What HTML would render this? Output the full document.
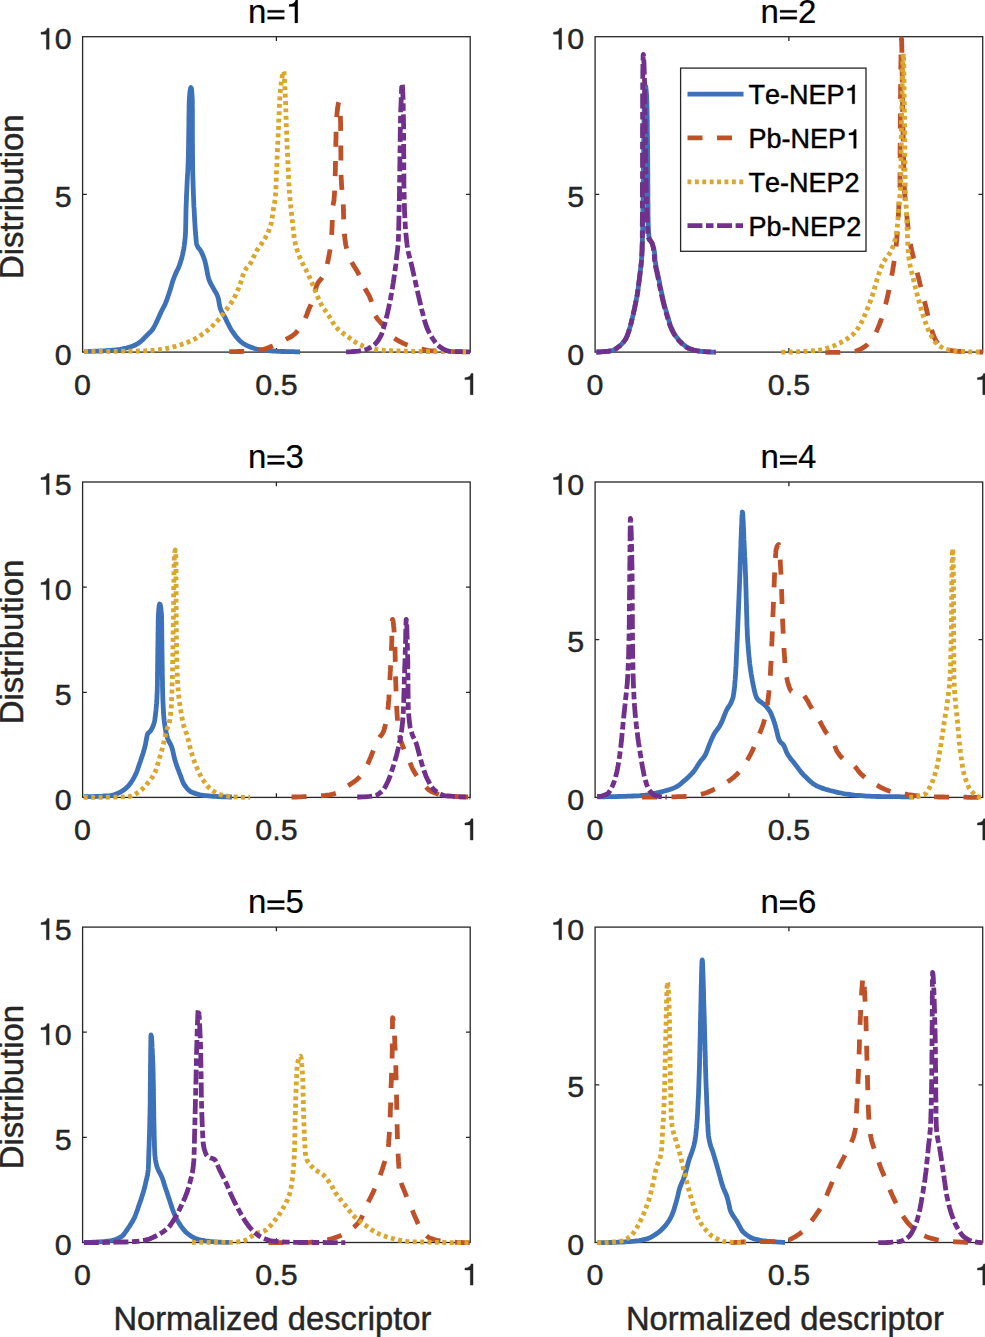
<!DOCTYPE html><html><head><meta charset="utf-8"><style>html,body{margin:0;padding:0;background:#fff;}svg{display:block}text{font-kerning:none}</style></head><body>
<svg width="985" height="1337" viewBox="0 0 985 1337" font-family="Liberation Sans, sans-serif">
<rect width="985" height="1337" fill="#fff"/>
<defs>
<clipPath id="c00"><rect x="82.6" y="33.7" width="388.2" height="321.4"/></clipPath>
<clipPath id="c01"><rect x="595.1" y="33.7" width="388.2" height="321.4"/></clipPath>
<clipPath id="c10"><rect x="82.6" y="479" width="388.2" height="321.4"/></clipPath>
<clipPath id="c11"><rect x="595.1" y="479" width="388.2" height="321.4"/></clipPath>
<clipPath id="c20"><rect x="82.6" y="924.1" width="388.2" height="321.4"/></clipPath>
<clipPath id="c21"><rect x="595.1" y="924.1" width="388.2" height="321.4"/></clipPath>
</defs>
<rect x="82.6" y="36.7" width="387.6" height="315.4" fill="none" stroke="#262626" stroke-width="1.3"/>
<path d="M276.4 352.1v-4.2M276.4 36.7v4.2" stroke="#262626" stroke-width="1.3"/>
<path d="M82.6 194.4h4.2M470.2 194.4h-4.2" stroke="#262626" stroke-width="1.3"/>
<g transform="translate(0 394.7) scale(1 1.0) translate(0 -394.7)"><text x="74.1" y="394.7" font-size="30.4" fill="#262626" stroke="#262626" stroke-width="0.45">0</text></g>
<g transform="translate(0 394.7) scale(1 1.0) translate(0 -394.7)"><text x="255.3" y="394.7" font-size="30.4" fill="#262626" stroke="#262626" stroke-width="0.45">0.5</text></g>
<g transform="translate(0 394.7) scale(1 1.0) translate(0 -394.7)"><path transform="translate(461.7 394.7) scale(0.03040 -0.03040)" d="M372 0H283V497H106V558C230 568 290 608 311 695H372Z" fill="#262626" stroke="#262626" stroke-width="14.8"/></g>
<g transform="translate(0 364.7) scale(1 1.0) translate(0 -364.7)"><text x="54.7" y="364.7" font-size="30.4" fill="#262626" stroke="#262626" stroke-width="0.45">0</text></g>
<g transform="translate(0 207) scale(1 1.0) translate(0 -207)"><text x="54.7" y="207" font-size="30.4" fill="#262626" stroke="#262626" stroke-width="0.45">5</text></g>
<g transform="translate(0 49.3) scale(1 1.0) translate(0 -49.3)"><path transform="translate(37.8 49.3) scale(0.03040 -0.03040)" d="M372 0H283V497H106V558C230 568 290 608 311 695H372Z" fill="#262626" stroke="#262626" stroke-width="14.8"/><text x="54.7" y="49.3" font-size="30.4" fill="#262626" stroke="#262626" stroke-width="0.45">0</text></g>
<g transform="translate(0 22.9) scale(1 1.0) translate(0 -22.9)"><text x="247.9" y="22.9" font-size="33" fill="#000" stroke="#000" stroke-width="0.2">n</text><path transform="translate(266.3 22.9) scale(0.03300 -0.03300)" d="M38 113H546V186H38ZM38 314H546V387H38Z" fill="#000" stroke="#000" stroke-width="6.1"/><path transform="translate(285.5 22.9) scale(0.03300 -0.03300)" d="M372 0H283V497H106V558C230 568 290 608 311 695H372Z" fill="#000" stroke="#000" stroke-width="6.1"/></g>
<g clip-path="url(#c00)" fill="none" stroke-width="4.8" stroke-linejoin="round">
<path d="M84.1 351.4L86.5 351.4L88.9 351.4L91.3 351.3L93.7 351.2L96.1 351.2L98.5 351.1L100.9 350.9L103.3 350.8L105.7 350.7L108.1 350.5L110.5 350.4L112.9 350.2L115.2 350L117.6 349.6L120 349.3L122.3 348.9L124.7 348.4L126.7 348L128.7 347.4L130.8 346.8L132.8 346.1L134.8 345.3L136.8 344.2L138.9 342.9L140.9 341.3L142.4 340L143.9 338.4L145.5 336.8L147 335.2L148.7 333.6L150.4 332L152.1 330.1L153.1 328.6L154.1 326.9L155.1 325L156.1 323L157.1 320.9L158.1 318.6L159.2 316.3L160.2 314L161.2 311.8L162.2 309.8L163.2 307.9L164.3 305.9L165.3 303.7L166.1 301.7L166.9 299.6L167.7 297.3L168.5 294.9L169.3 292.5L170 290.4L170.7 288.1L171.4 285.8L172 283.5L172.7 281.3L173.4 279.3L174.1 277.5L174.7 275.9L175.4 274.3L176.2 272.5L177 270.7L177.9 269L178.7 267.2L179.5 265.1L180.1 263.4L180.7 261.6L181.3 259.6L181.9 257.5L182.5 255L182.9 253.1L183.3 251.1L183.8 248.7L184.2 246L184.6 242.8L184.8 241.2L185 239.4L185.2 237.2L185.4 234.4L185.6 230.6L185.6 229.3L185.7 227.4L185.7 225.1L185.8 222.5L185.8 219.7L185.9 217L185.9 214.4L186 212.1L186 210.3L186.1 207.3L186.2 204.7L186.3 202.3L186.4 200.1L186.4 198L186.5 196L186.6 194.1L186.7 192.1L186.8 190L186.9 187.5L187 185.3L187.1 183.1L187.2 181.1L187.3 179.1L187.4 177.1L187.5 175.1L187.7 173.1L187.8 171L187.9 168.7L188 166.3L188.1 163.7L188.2 160.8L188.3 157.7L188.4 154.2L188.4 152.6L188.5 150.7L188.5 148.5L188.6 146.1L188.6 143.4L188.6 140.6L188.7 137.6L188.7 134.5L188.8 131.3L188.8 128.1L188.9 124.9L188.9 121.8L188.9 118.7L189 115.7L189 112.8L189.1 110.2L189.1 107.7L189.1 105.5L189.2 103.6L189.2 102L189.3 100.8L189.3 100L189.6 96.3L189.8 93.3L190.1 90.8L190.4 89.1L190.6 88L190.9 87.6L191.2 87.9L191.5 89L191.7 91.1L192 94.7L192.3 100L192.3 100.5L192.3 101.5L192.3 102.9L192.3 104.8L192.3 107L192.4 109.6L192.4 112.4L192.4 115.4L192.4 118.7L192.4 122L192.4 125.4L192.4 128.9L192.4 132.3L192.4 135.6L192.4 138.9L192.4 142L192.5 144.8L192.5 147.4L192.5 149.7L192.5 151.6L192.5 153.1L192.5 154.2L192.6 158.7L192.6 162.8L192.7 166.3L192.7 169.5L192.8 172.3L192.8 174.8L192.9 177L192.9 179L193 180.8L193 182.4L193.1 184L193.1 185.5L193.2 186.9L193.2 188.4L193.3 190L193.4 193.2L193.5 196.2L193.6 199L193.7 201.7L193.8 204.3L193.9 206.7L194.1 209L194.2 211.1L194.3 213.2L194.4 215.2L194.5 217L194.6 218.8L194.7 220.5L194.9 223.7L195.1 227L195.3 230.1L195.5 233.1L195.8 235.9L196 238.5L196.2 240.7L196.4 242.5L196.6 243.9L196.8 244.8L198.1 247.6L199.5 249.1L200.8 250.9L201.6 252.5L202.4 254.3L203.3 256.4L204.1 258.6L204.9 261.1L205.4 263L205.9 265.2L206.4 267.8L206.9 270.4L207.4 273L207.9 275.5L208.4 277.6L208.9 279.3L209.9 281.9L210.9 284L212 285.8L213 287.6L214 289.5L215 291.3L216.1 293L217.1 295L218.1 297.6L218.5 299.2L218.9 301.5L219.3 303.9L219.7 306.2L220.1 307.8L221.1 310.5L222.1 312.6L223.2 314.4L224.2 316L225.2 317.9L226.2 320L227.2 322.1L228.3 324.2L229.3 326.2L230.3 328.1L231.6 330.3L233 332.3L234.3 334.2L235.8 336.2L237.4 338.1L238.9 339.9L240.4 341.3L242.4 342.9L244.4 344.2L246.5 345.4L248.5 346.3L250.5 347.1L252.6 347.8L254.6 348.5L256.7 349L258.7 349.4L261.1 349.7L263.4 350.1L265.8 350.3L268.2 350.6L270.5 350.8L272.9 351L275.3 351.2L277.6 351.3L280 351.4L282.2 351.5L284.4 351.5L286.7 351.6L288.9 351.7L291.1 351.7L293.3 351.7L295.6 351.8L297.8 351.8L300 351.8" stroke="#3D71B8"/>
<path d="M229.2 351.6L231.5 351.6L233.7 351.6L236 351.6L238.2 351.5L240.5 351.5L242.7 351.4L245 351.4L247.3 351.3L249.6 351.2L251.8 351.1L254.1 350.9L256.4 350.7L258.7 350.4L260.9 350L263.1 349.5L265.3 348.8L267.5 348L269.7 347.1L271.9 346.3L273.9 345.5L276 344.5L278 343.5L280.1 342.5L282.1 341.4L284.2 340.3L286.2 339.2L288.3 338.2L290.3 337.1L292.4 335.8L294.4 334.2L295.8 332.9L297.3 331.2L298.7 329.4L300.2 327.3L301.6 325.1L303.1 322.6L304.5 320L305.3 318.3L306.1 316.3L307 314.1L307.8 311.9L308.6 309.8L309.5 307.8L310.3 306L311.1 304.1L312 302.2L312.9 300L313.7 297.6L314.2 295.8L314.7 293.6L315.2 291.2L315.7 288.9L316.2 286.9L316.7 285.4L318.1 282.7L319.4 280.8L320.8 279.3L322.1 277.7L323.4 275.8L324.8 273.2L325.4 271.5L326 269.3L326.7 266.8L327.3 264L327.9 261.1L328.3 259.3L328.6 257.4L329 255.5L329.4 253.4L329.8 251.1L330.1 248.6L330.5 245.9L330.9 242.8L331.1 240.9L331.3 238.8L331.5 236.4L331.7 233.7L331.9 230.6L332 228.7L332.1 226.3L332.2 223.5L332.3 220.5L332.4 217.5L332.5 214.5L332.6 211.8L332.7 209.4L332.8 207.5L332.9 206.2L333.3 203.9L333.6 202.4L334 200.2L334.1 198.9L334.2 197.3L334.4 195.3L334.5 193L334.6 190.5L334.8 187.8L334.9 184.8L335 181.8L335.1 180.2L335.1 178.3L335.2 176.1L335.2 173.8L335.3 171.2L335.4 168.5L335.4 165.7L335.5 162.7L335.5 159.7L335.6 156.6L335.7 153.4L335.7 150.3L335.8 147.1L335.8 144L335.9 141L336 138.1L336 135.2L336.1 132.6L336.1 130L336.2 127.7L336.3 125.6L336.3 123.8L336.4 122.2L336.4 121L336.5 120L336.8 116.1L337.1 112.6L337.4 109.5L337.8 106.9L338.1 104.8L338.4 103.3L338.7 102.3L339 102L339.2 102.3L339.4 103.1L339.6 104.6L339.8 106.5L339.9 109.1L340.1 112.2L340.3 115.8L340.5 120L340.5 120.9L340.6 122.2L340.6 123.9L340.6 126L340.6 128.4L340.7 131L340.7 133.9L340.7 136.9L340.7 140.1L340.8 143.4L340.8 146.7L340.8 150L340.9 153.3L340.9 156.6L340.9 159.7L340.9 162.6L341 165.4L341 167.9L341 170.1L341 171.9L341.1 173.4L341.1 174.5L341.2 178.1L341.4 181L341.5 183.5L341.6 185.5L341.7 187.3L341.9 188.9L342 190.4L342.1 192L342.3 194.2L342.5 196L342.7 197.7L342.9 199.6L343.1 202.2L343.2 203.7L343.3 205.8L343.4 208.2L343.4 210.9L343.5 213.8L343.6 216.8L343.7 219.7L343.8 222.6L343.9 225.2L343.9 227.5L344 229.3L344.1 230.6L344.4 234.4L344.8 237.7L345.1 240.5L345.5 242.9L345.8 244.9L346.2 246.7L346.5 248.2L346.9 249.6L347.2 250.9L348 253.6L348.8 255.8L349.6 257.7L350.4 259.4L351.2 261.1L352.4 263.4L353.5 265.4L354.7 267.3L355.8 269.1L357 271L358.1 273L359.3 275.3L360.1 277.2L360.9 279.2L361.8 281.3L362.6 283.4L363.4 285.4L364.4 287.5L365.4 289.3L366.4 291L367.4 292.7L368.5 294.5L369.5 296.5L370.5 298.9L371.5 301.7L371.9 303.4L372.3 305.7L372.8 308.1L373.2 310.3L373.6 311.8L375 315L376.5 317.5L377.9 319.5L379.4 321.2L380.8 322.7L382.3 324.2L383.7 326L385.1 327.8L386.4 329.8L387.8 331.6L389.1 333.4L390.4 334.9L391.8 336.2L393.8 337.8L395.9 339.2L397.9 340.5L400 341.6L402 342.7L404 343.6L406.1 344.5L408.1 345.3L410.1 346.1L412.1 346.7L414.2 347.4L416.2 347.9L418.2 348.4L420.6 348.9L422.9 349.4L425.3 349.9L427.7 350.3L430 350.6L432.4 350.8L434.8 350.9L437.1 351L439.4 351.1L441.8 351.2L444.1 351.3L446.5 351.4L448.8 351.5L451.2 351.5L453.6 351.6L455.9 351.7L458.2 351.7L460.6 351.7L462.9 351.8L465.3 351.8L467.6 351.8L470 351.8" stroke="#BF5129" stroke-dasharray="15 14.5"/>
<path d="M84.1 351.4L86.6 351.4L89 351.4L91.5 351.4L94 351.4L96.4 351.4L98.9 351.4L101.4 351.4L103.9 351.4L106.3 351.3L108.8 351.3L111.3 351.3L113.7 351.3L116.2 351.3L118.7 351.3L121.1 351.2L123.6 351.2L126.1 351.2L128.6 351.2L131 351.1L133.5 351.1L136 351.1L138.4 351L140.9 351L143.2 350.9L145.4 350.9L147.7 350.7L149.9 350.6L152.2 350.4L154.4 350.2L156.7 349.9L158.9 349.7L161.2 349.4L163.6 349.1L165.9 348.6L168.3 348.1L170.7 347.5L173 346.9L175.4 346.3L177.4 345.7L179.5 345.1L181.5 344.5L183.5 343.8L185.6 343.1L187.6 342.3L189.6 341.4L191.7 340.5L193.7 339.5L195.8 338.4L197.8 337.2L199.8 336L201.8 334.6L203.9 333.2L205.9 331.7L207.9 330.1L209.6 328.6L211.3 327.1L213 325.4L214.7 323.7L216.4 321.9L218.1 320L219.4 318.5L220.8 316.8L222.1 315.2L223.5 313.4L224.8 311.6L226.2 309.8L227.5 308L228.9 306.1L230.2 304.2L231.6 302.2L233 300L234.3 297.6L235.2 295.9L236 294.1L236.9 292.1L237.8 290.1L238.7 287.9L239.5 285.7L240.4 283.4L241.1 281.4L241.8 279.2L242.4 276.9L243.1 274.7L243.8 272.7L244.5 271.2L245.7 269.2L246.9 267.6L248.2 266.3L249.4 264.8L250.6 263.1L251.6 261.3L252.6 259.3L253.6 257.1L254.6 254.9L255.6 252.8L256.6 250.9L258 248.7L259.3 246.7L260.7 244.9L262.1 243L263.4 241L264.8 238.7L265.7 237.1L266.5 235.5L267.4 233.8L268.3 231.9L269.2 229.8L270 227.4L270.9 224.5L271.3 222.9L271.6 221L272 218.7L272.4 216.3L272.8 213.7L273.1 211.1L273.5 208.6L273.9 206.2L274.2 204.3L274.6 202.6L274.9 200.7L275.3 198L275.4 196.8L275.5 195.2L275.6 193.3L275.8 191.2L275.9 188.8L276 186.3L276.1 183.5L276.2 180.7L276.3 177.8L276.4 174.8L276.5 171.8L276.7 168.9L276.8 166L276.9 163.3L277 160.7L277.1 158.3L277.2 155.9L277.3 153.5L277.4 151.1L277.5 148.7L277.6 146.3L277.7 143.9L277.9 141.5L278 139.1L278.1 136.7L278.2 134.3L278.3 131.9L278.4 129.6L278.5 127.3L278.6 125L278.7 122.5L278.8 119.9L278.9 117.2L279.1 114.5L279.2 111.8L279.3 109.1L279.4 106.5L279.5 103.9L279.6 101.5L279.7 99.2L279.9 97.2L280 95.3L280.1 93.8L280.2 92.5L280.6 88.7L281 85.1L281.4 81.8L281.8 78.9L282.2 76.3L282.6 74.3L283 72.7L283.4 71.7L283.8 71.4L283.9 71.8L284.1 73.1L284.2 75L284.4 77.4L284.5 80.1L284.7 83.2L284.8 86.4L285 89.5L285.1 92.5L285.2 94.5L285.3 96.6L285.4 98.8L285.5 101.1L285.6 103.6L285.7 106.1L285.8 108.7L285.9 111.3L285.9 114L286 116.7L286.1 119.4L286.2 122L286.3 124.7L286.4 127.3L286.5 129.8L286.6 132.3L286.7 134.7L286.8 137.3L286.9 140L287 142.6L287.1 145.2L287.2 147.9L287.3 150.4L287.4 153L287.6 155.5L287.7 158L287.8 160.5L287.9 162.9L288 165.3L288.1 167.6L288.2 169.8L288.3 172L288.4 174.5L288.6 177L288.7 179.4L288.8 181.7L288.9 183.9L289.1 186.1L289.2 188.1L289.3 190L289.5 192.8L289.7 195.4L289.9 197.8L290.1 200L290.3 202.2L290.6 204.8L290.8 207.2L291.1 209.5L291.3 211.8L291.6 214L291.8 216.1L292.1 218.3L292.3 220.5L292.6 222.9L292.8 225.4L293.1 228L293.4 230.5L293.6 232.8L293.9 235.1L294.1 237L294.4 238.7L294.9 241.4L295.4 243.7L295.9 245.8L296.4 247.6L296.9 249.3L297.4 250.9L298.2 253.4L299.1 255.6L299.9 257.6L300.8 259.5L301.6 261.3L302.5 263.1L303.5 265.2L304.5 267.3L305.6 269.2L306.6 271.2L307.6 273.2L308.6 275.3L309.5 277.2L310.3 279.2L311.2 281.2L312.1 283.3L313 285.4L313.8 287.5L314.7 289.5L315.6 291.6L316.4 293.7L317.3 295.9L318.2 298L319.1 300.1L319.9 302L320.8 303.7L322.1 306.1L323.5 308.2L324.9 310.1L326.2 312L327.5 313.9L328.9 315.9L330.2 318L331.6 320.2L332.9 322.5L334.3 324.6L335.6 326.5L337 328.1L338.7 329.8L340.4 331.2L342.1 332.5L343.8 333.8L345.5 335L347.2 336.2L349.2 337.7L351.2 339.3L353.3 340.8L355.3 342.1L357.3 343.3L359.3 344.3L361.4 345.2L363.4 346.1L365.5 346.8L367.5 347.4L369.8 348L372.1 348.6L374.4 349.1L376.8 349.6L379.1 350L381.4 350.2L383.7 350.4L386.2 350.5L388.6 350.6L391.1 350.7L393.6 350.7L396 350.8L398.5 350.9L401 351L403.4 351L405.9 351.1L408.4 351.1L410.8 351.2L413.3 351.3L415.8 351.3L418.2 351.4L420.7 351.4L423.2 351.4L425.6 351.5L428.1 351.5L430.5 351.6L433 351.6L435.5 351.6L437.9 351.6L440.4 351.7L442.9 351.7L445.3 351.7L447.8 351.7L450.3 351.7L452.7 351.8L455.2 351.8L457.7 351.8L460.1 351.8L462.6 351.8L465.1 351.8L467.5 351.8L470 351.8" stroke="#DAA62C" stroke-dasharray="3.9 3.5"/>
<path d="M346.1 351.8L348.6 351.8L351 351.7L353.5 351.5L356 351.3L358.5 351.1L360.9 350.7L363.4 350.4L365.4 349.9L367.5 349.1L369.5 348L371.6 346.7L373.6 345.3L375 344.1L376.4 342.6L377.9 340.8L379.3 338.7L380.7 336.2L381.4 334.7L382 332.9L382.7 330.9L383.4 328.7L384 326.3L384.7 324L385.2 322.2L385.7 320.3L386.2 318.3L386.8 316.2L387.3 314L387.8 311.8L388.2 309.8L388.7 307.8L389.1 305.6L389.6 303.4L390 301.2L390.5 298.9L390.9 296.5L391.4 294L391.8 291.5L392.1 289.5L392.5 287.4L392.8 285.3L393.2 283.1L393.5 280.8L393.9 278.5L394.2 276.1L394.6 273.7L394.9 271.2L395.2 269.1L395.5 266.9L395.8 264.7L396 262.4L396.3 260L396.6 257.5L396.9 255L397.1 253L397.4 251.2L397.6 249.3L397.8 247L398.1 244.3L398.3 240.8L398.4 239.5L398.4 237.8L398.5 235.8L398.6 233.6L398.6 231.2L398.7 228.6L398.8 226L398.8 223.2L398.9 220.5L398.9 218.6L399 216.6L399 214.5L399.1 212.3L399.1 210.1L399.2 207.7L399.2 205.4L399.3 202.9L399.3 200.4L399.4 197.9L399.4 195.3L399.5 192.7L399.5 190L399.5 187.9L399.6 185.7L399.6 183.4L399.6 181L399.7 178.5L399.7 175.8L399.7 173.2L399.8 170.4L399.8 167.7L399.8 164.8L399.9 162L399.9 159.1L399.9 156.3L400 153.4L400 150.6L400.1 147.8L400.1 145.1L400.1 142.4L400.2 139.8L400.2 137.2L400.2 134.8L400.3 132.5L400.3 130.2L400.3 128.1L400.4 126.2L400.4 124.4L400.4 122.7L400.5 121.3L400.5 120L400.6 116.2L400.7 112.4L400.8 108.8L401 105.3L401.1 102L401.2 98.9L401.3 96L401.4 93.3L401.5 91L401.6 88.9L401.7 87.1L401.9 85.7L402 84.7L402.1 84L402.2 83.8L402.3 84L402.4 84.5L402.5 85.4L402.5 86.7L402.6 88.2L402.7 90.1L402.8 92.3L402.9 94.8L403 97.6L403.1 100.7L403.2 104L403.2 107.7L403.3 111.5L403.4 115.6L403.5 120L403.5 121L403.5 122.4L403.6 124L403.6 125.8L403.6 127.9L403.6 130.2L403.6 132.7L403.6 135.3L403.7 138.1L403.7 140.9L403.7 143.9L403.7 147L403.7 150.1L403.7 153.3L403.8 156.4L403.8 159.6L403.8 162.7L403.8 165.8L403.8 168.8L403.8 171.7L403.9 174.5L403.9 177.1L403.9 179.6L403.9 181.9L403.9 184L403.9 185.9L404 187.5L404 188.9L404 190L404.1 194L404.2 197.5L404.2 200.8L404.3 203.7L404.4 206.3L404.5 208.7L404.5 210.8L404.6 212.8L404.7 214.5L404.8 216.2L404.8 217.7L404.9 219.1L405 220.5L405.2 224.1L405.4 227.3L405.6 230.3L405.8 233L406.1 235.5L406.3 237.7L406.5 239.8L406.7 241.6L406.9 243.3L407.1 244.8L407.6 248L408.1 250.8L408.6 253.3L409.1 255.5L409.6 257.5L410.1 259.4L410.6 261.2L411.1 263.1L411.6 265.1L412.1 267.2L412.6 269.5L413.1 271.8L413.6 274L414.1 276.3L414.7 278.6L415.2 280.9L415.7 283.1L416.2 285.4L416.7 287.7L417.2 290L417.7 292.3L418.2 294.6L418.8 296.9L419.3 299.2L419.8 301.4L420.3 303.6L420.8 305.7L421.3 307.8L421.9 310.3L422.6 312.8L423.2 315.3L423.8 317.8L424.4 320.1L425.1 322.3L425.7 324.2L426.3 326L427.3 328.5L428.3 330.9L429.4 333L430.4 334.9L431.4 336.6L432.4 338.2L434 340.5L435.7 342.7L437.3 344.6L439 346.2L440.6 347.4L442.6 348.6L444.6 349.6L446.7 350.5L448.7 351.1L450.7 351.4L453.1 351.5L455.5 351.6L457.9 351.6L460.4 351.7L462.8 351.7L465.2 351.8L467.6 351.8L470 351.8" stroke="#70308C" stroke-dasharray="14.9 3.6 7.5 3.6"/>
</g>
<text transform="translate(23.0 196.7) rotate(-90) scale(1 1.0)" font-size="32.9" fill="#262626" stroke="#262626" stroke-width="0.45" text-anchor="middle">Distribution</text>
<rect x="595.1" y="36.7" width="387.6" height="315.4" fill="none" stroke="#262626" stroke-width="1.3"/>
<path d="M788.9 352.1v-4.2M788.9 36.7v4.2" stroke="#262626" stroke-width="1.3"/>
<path d="M595.1 194.4h4.2M982.7 194.4h-4.2" stroke="#262626" stroke-width="1.3"/>
<g transform="translate(0 394.7) scale(1 1.0) translate(0 -394.7)"><text x="586.6" y="394.7" font-size="30.4" fill="#262626" stroke="#262626" stroke-width="0.45">0</text></g>
<g transform="translate(0 394.7) scale(1 1.0) translate(0 -394.7)"><text x="767.8" y="394.7" font-size="30.4" fill="#262626" stroke="#262626" stroke-width="0.45">0.5</text></g>
<g transform="translate(0 394.7) scale(1 1.0) translate(0 -394.7)"><path transform="translate(974.2 394.7) scale(0.03040 -0.03040)" d="M372 0H283V497H106V558C230 568 290 608 311 695H372Z" fill="#262626" stroke="#262626" stroke-width="14.8"/></g>
<g transform="translate(0 364.7) scale(1 1.0) translate(0 -364.7)"><text x="567.2" y="364.7" font-size="30.4" fill="#262626" stroke="#262626" stroke-width="0.45">0</text></g>
<g transform="translate(0 207) scale(1 1.0) translate(0 -207)"><text x="567.2" y="207" font-size="30.4" fill="#262626" stroke="#262626" stroke-width="0.45">5</text></g>
<g transform="translate(0 49.3) scale(1 1.0) translate(0 -49.3)"><path transform="translate(550.3 49.3) scale(0.03040 -0.03040)" d="M372 0H283V497H106V558C230 568 290 608 311 695H372Z" fill="#262626" stroke="#262626" stroke-width="14.8"/><text x="567.2" y="49.3" font-size="30.4" fill="#262626" stroke="#262626" stroke-width="0.45">0</text></g>
<g transform="translate(0 22.9) scale(1 1.0) translate(0 -22.9)"><text x="760.4" y="22.9" font-size="33" fill="#000" stroke="#000" stroke-width="0.2">n</text><path transform="translate(778.8 22.9) scale(0.03300 -0.03300)" d="M38 113H546V186H38ZM38 314H546V387H38Z" fill="#000" stroke="#000" stroke-width="6.1"/><text x="798" y="22.9" font-size="33" fill="#000" stroke="#000" stroke-width="0.2">2</text></g>
<g clip-path="url(#c01)" fill="none" stroke-width="4.8" stroke-linejoin="round">
<path d="M596.4 352L598.6 352L600.9 351.9L603.1 351.7L605.3 351.5L607.5 351.3L609.8 351L612 350.6L613.8 350L615.6 349L617.4 347.7L619.2 346.3L620.8 345L622.4 343.4L624 341.5L625.6 339.2L626.4 337.6L627.3 335.5L628.1 333.2L629 330.6L629.8 327.9L630.4 325.9L631 323.7L631.5 321.4L632.1 319L632.7 316.5L633.2 314.5L633.6 312.5L634.1 310.4L634.6 308.2L635 306L635.5 303.7L635.9 301.6L636.3 299.5L636.8 297.2L637.2 294.9L637.6 292.3L637.9 290.3L638.2 288.1L638.5 285.8L638.8 283.4L639.1 281L639.4 278.8L639.7 276.7L639.9 274.5L640.2 272.1L640.5 269.6L640.7 267.8L640.9 266L641.1 264.1L641.3 262.1L641.5 259.8L641.7 257.2L641.9 254L642 252.5L642.1 250.9L642.1 249L642.2 246.8L642.3 244.5L642.4 241.9L642.4 239L642.5 235.9L642.6 232.6L642.6 231L642.7 229.2L642.7 227.1L642.7 224.9L642.8 222.6L642.8 220.1L642.8 217.6L642.9 214.9L642.9 212.2L642.9 209.5L643 206.9L643 204.2L643 202L643.1 199.7L643.1 197.3L643.1 194.8L643.1 192.3L643.2 189.7L643.2 187.1L643.2 184.5L643.2 181.8L643.3 179.1L643.3 176.4L643.3 173.7L643.4 171.1L643.4 168.5L643.4 165.9L643.4 163.4L643.5 160.9L643.5 158.5L643.5 156.2L643.5 154.1L643.6 152L643.6 150L643.6 147L643.7 143.9L643.7 140.8L643.8 137.7L643.8 134.7L643.9 131.6L643.9 128.6L643.9 125.7L644 122.8L644 119.9L644.1 117.2L644.1 114.6L644.2 112L644.2 109.6L644.3 107.3L644.3 105.1L644.3 103.1L644.4 101.3L644.4 99.7L644.5 98.2L644.5 96.9L644.6 95.8L644.6 95L644.8 91.5L645 88.6L645.3 86.7L645.5 86L645.8 86.7L646 88.5L646.3 91.4L646.6 95L646.6 95.7L646.7 96.7L646.7 97.8L646.8 99.1L646.8 100.5L646.9 102.2L646.9 104L646.9 106L647 108.1L647 110.4L647.1 112.8L647.1 115.3L647.2 118L647.2 120.7L647.3 123.6L647.3 126.6L647.3 129.7L647.4 132.9L647.4 136.2L647.5 139.5L647.5 143L647.6 146.4L647.6 150L647.6 151.6L647.6 153.4L647.7 155.5L647.7 157.8L647.7 160.2L647.7 162.8L647.7 165.6L647.7 168.4L647.8 171.4L647.8 174.4L647.8 177.5L647.8 180.7L647.8 183.8L647.9 186.9L647.9 190.1L647.9 193.1L647.9 196.1L647.9 199L647.9 201.8L648 204.4L648 206.9L648 209.3L648 211.4L648 213.3L648 215L648.1 216.4L648.1 217.6L648.1 218.4L648.2 222.5L648.3 226L648.4 229L648.5 231.5L648.7 233.5L648.8 235.1L648.9 236.2L649 236.9L650.1 240.1L651.2 241.6L652.3 243.6L652.8 245.2L653.4 247L654 249.3L654.5 252.5L654.7 254.2L654.9 256.7L655 259.2L655.2 261.1L655.7 264.4L656.1 267L656.6 269.2L657.1 271.2L657.5 273.1L658 275.3L658.5 277.7L659 280.1L659.5 282.5L659.9 284.9L660.4 287.2L660.9 289.5L661.4 291.7L661.8 293.9L662.3 296.1L662.8 298.3L663.2 300.4L663.7 302.3L664.3 304.6L664.9 306.9L665.5 309L666.1 311L666.7 313.1L667.3 315.1L668 317.5L668.7 319.9L669.4 322.3L670.1 324.5L670.8 326.4L671.9 328.9L673 331.2L674 333.2L675.1 335L676.5 337.1L678 339L679.4 340.6L680.8 342.1L682.5 343.7L684.2 345.2L685.9 346.6L687.6 347.7L689.3 348.5L691.6 349.3L693.9 350L696.1 350.6L698.4 351L700.7 351.3L703.2 351.5L705.7 351.7L708.2 351.9L710.6 352L713.1 352.1L715.6 352.1" stroke="#3D71B8"/>
<path d="M825.3 352.4L827.8 352.4L830.2 352.4L832.6 352.4L835.1 352.4L837.5 352.3L840 352.3L842.4 352.2L844.8 352.1L847.2 352L849.7 351.8L852.1 351.5L854.5 351.2L856.4 350.8L858.3 350.2L860.1 349.3L862 348.3L863.9 347.2L865.6 346L867.4 344.5L869.1 342.7L870.9 340.7L872.6 338.4L873.7 336.8L874.8 334.9L875.9 332.7L876.9 330.4L878 327.9L879.1 325.3L879.8 323.4L880.6 321.4L881.3 319.3L882 317L882.8 314.7L883.5 312.2L884 310.3L884.6 308.3L885.1 306.2L885.7 304.1L886.2 301.9L886.8 299.6L887.4 297.2L887.9 294.8L888.4 292.6L888.9 290.4L889.3 288.2L889.8 285.8L890.3 283.4L890.8 280.9L891.2 278.4L891.7 275.7L892.2 273L892.6 270.9L892.9 268.7L893.3 266.5L893.7 264.3L894 261.9L894.4 259.5L894.8 256.9L895.1 254.1L895.5 251.1L895.7 249.2L895.9 247.2L896.2 245.1L896.4 242.9L896.6 240.6L896.8 238.2L897 235.6L897.3 232.9L897.5 230.1L897.7 227.1L897.8 225L898 222.8L898.1 220.3L898.2 217.7L898.4 215.1L898.5 212.4L898.7 209.9L898.8 207.5L898.9 205.5L899.1 203.9L899.2 202.5L899.3 201L899.5 199.3L899.6 197.1L899.8 194L899.9 190L899.9 189.4L899.9 188.4L899.9 187.2L900 185.7L900 183.9L900 181.9L900 179.7L900 177.3L900 174.8L900 172.1L900.1 169.2L900.1 166.3L900.1 163.2L900.1 160.2L900.1 157L900.1 153.8L900.1 150.7L900.1 147.5L900.2 144.4L900.2 141.4L900.2 138.4L900.2 135.5L900.2 132.8L900.2 130.2L900.2 127.7L900.3 125.5L900.3 123.4L900.3 121.6L900.3 120L900.3 116.2L900.4 112.4L900.4 108.6L900.4 104.9L900.5 101.2L900.5 97.6L900.6 94L900.6 90.5L900.6 87L900.7 83.6L900.7 80.3L900.7 77.1L900.8 73.9L900.8 70.9L900.8 67.9L900.9 65.1L900.9 62.4L901 59.8L901 57.3L901 54.9L901.1 52.7L901.1 50.6L901.1 48.7L901.2 47L901.2 45.4L901.2 43.9L901.3 42.6L901.3 41.6L901.4 40.7L901.4 39.9L901.4 39.4L901.5 39.1L901.5 39L901.5 39.2L901.6 39.6L901.6 40.4L901.7 41.4L901.7 42.7L901.7 44.3L901.8 46.1L901.8 48.1L901.9 50.3L901.9 52.6L901.9 55.2L902 57.9L902 60.7L902.1 63.6L902.1 66.7L902.1 69.8L902.2 73L902.2 76.2L902.2 79.5L902.3 82.8L902.3 86.1L902.4 89.4L902.4 92.6L902.4 95.8L902.5 99L902.5 102L902.6 105L902.6 107.9L902.6 110.6L902.7 113.2L902.7 115.7L902.8 117.9L902.8 120L902.9 122.9L902.9 125.9L903 128.9L903 131.8L903.1 134.8L903.2 137.8L903.2 140.7L903.3 143.6L903.3 146.5L903.4 149.4L903.4 152.3L903.5 155L903.6 157.8L903.6 160.5L903.7 163.1L903.7 165.6L903.8 168.1L903.9 170.5L903.9 172.8L904 175.1L904 177.2L904.1 179.2L904.1 181.1L904.2 182.9L904.3 184.6L904.3 186.2L904.4 187.6L904.4 188.9L904.5 190L904.7 193.6L904.9 196.7L905.1 199.4L905.3 201.7L905.6 203.9L905.8 205.9L906 207.8L906.2 209.8L906.4 211.8L906.7 214.5L907 217.2L907.2 219.9L907.5 222.6L907.8 225.1L908 227.6L908.3 230L908.6 232.3L908.9 234.5L909.2 236.6L909.4 238.5L909.7 240.2L910.2 242.9L910.6 245.3L911.1 247.5L911.6 249.6L912.1 251.5L912.5 253.5L913 255.5L913.5 257.8L914.1 260.1L914.6 262.3L915.1 264.4L915.7 266.6L916.2 268.7L916.8 270.9L917.3 273L917.8 275.2L918.4 277.4L919 279.6L919.5 281.7L920 283.9L920.6 286.1L921.2 288.2L921.7 290.4L922.2 292.6L922.8 294.8L923.4 296.9L923.9 299.1L924.5 301.3L925 303.5L925.6 305.7L926.1 307.9L926.7 310.4L927.3 312.9L927.9 315.5L928.5 318.2L929.1 320.7L929.7 323.2L930.3 325.6L930.9 327.7L931.5 329.7L932.4 332.3L933.3 334.8L934.1 337.1L935 339L935.9 340.6L937.6 343.1L939.4 345.4L941.1 347.3L942.9 348.6L944.6 349.4L946.8 349.9L949 350.3L951.2 350.6L953.4 350.9L955.5 351.1L957.7 351.3L959.9 351.4L962.1 351.5L964.4 351.6L966.7 351.7L969.1 351.8L971.4 351.8L973.7 351.9L976 351.9L978.4 352L980.7 352L983 352" stroke="#BF5129" stroke-dasharray="15 14.5"/>
<path d="M781.4 352.1L783.8 352.1L786.3 352.1L788.7 352L791.2 352L793.6 351.9L796 351.8L798.5 351.7L800.9 351.6L803.4 351.4L805.8 351.3L808.2 351.1L810.7 350.9L813.1 350.7L815.6 350.5L818 350.3L820.2 350L822.4 349.5L824.6 348.9L826.8 348.2L829 347.5L831.1 346.8L833.2 346L835.4 345.1L837.5 344.1L839.6 343.1L841.7 342L843.5 341L845.4 339.9L847.2 338.8L849 337.5L850.8 336.2L852.7 334.6L854.5 332.9L855.9 331.3L857.2 329.4L858.6 327.3L860 325L861 323.2L862 321.2L863 319.1L864 316.9L865 314.5L866 312.2L866.8 310.2L867.6 308.2L868.5 306.2L869.3 304.1L870.1 301.9L871 299.6L871.8 297.2L872.6 294.8L873.2 292.8L873.9 290.6L874.5 288.3L875.1 286L875.7 283.7L876.4 281.5L877 279.5L877.8 277L878.6 274.5L879.4 272.1L880.2 269.7L881.1 267.5L881.9 265.5L882.7 263.6L883.5 262L884.9 259.9L886.2 258.1L887.6 256.4L889 254.4L889.9 252.9L890.8 251.3L891.7 249.5L892.6 247.5L893.5 245.2L894.4 242.4L894.8 240.9L895.2 239.3L895.6 237.4L896 235.2L896.5 232.7L896.9 229.8L897.3 226.5L897.7 222.7L897.8 221L898 218.7L898.1 216L898.2 213.1L898.4 210.1L898.5 207.4L898.7 205L898.8 203.1L899.1 200.5L899.4 198.8L899.6 197.4L899.9 195.8L900.2 193.5L900.5 190L900.5 189.3L900.6 188.4L900.6 187.1L900.6 185.6L900.7 183.9L900.7 182L900.7 179.8L900.8 177.5L900.8 175L900.8 172.3L900.9 169.6L900.9 166.7L900.9 163.7L901 160.7L901 157.6L901.1 154.5L901.1 151.4L901.1 148.3L901.2 145.2L901.2 142.2L901.2 139.2L901.3 136.3L901.3 133.5L901.3 130.9L901.4 128.3L901.4 126L901.4 123.8L901.5 121.8L901.5 120L901.6 116.6L901.6 113.1L901.7 109.7L901.8 106.2L901.9 102.7L901.9 99.3L902 95.8L902.1 92.5L902.1 89.2L902.2 85.9L902.3 82.7L902.3 79.7L902.4 76.7L902.5 73.9L902.6 71.2L902.6 68.6L902.7 66.2L902.8 63.9L902.8 61.9L902.9 60L903 58.4L903 56.9L903.1 55.7L903.2 54.8L903.3 54.1L903.3 53.6L903.4 53.5L903.4 53.7L903.5 54.1L903.5 54.9L903.6 56L903.6 57.3L903.6 58.8L903.7 60.6L903.7 62.6L903.8 64.9L903.8 67.2L903.8 69.8L903.9 72.5L903.9 75.4L904 78.3L904 81.4L904.1 84.5L904.1 87.7L904.1 91L904.2 94.3L904.2 97.6L904.3 100.9L904.3 104.2L904.3 107.5L904.4 110.7L904.4 113.9L904.5 117L904.5 120L904.5 122.1L904.6 124.3L904.6 126.6L904.6 129.1L904.6 131.7L904.7 134.4L904.7 137.1L904.7 139.9L904.7 142.8L904.8 145.7L904.8 148.6L904.8 151.6L904.9 154.5L904.9 157.4L904.9 160.3L904.9 163.2L905 166L905 168.7L905 171.3L905.1 173.8L905.1 176.3L905.1 178.6L905.1 180.7L905.2 182.7L905.2 184.6L905.2 186.2L905.2 187.7L905.3 189L905.3 190L905.4 193.7L905.5 196.9L905.7 199.5L905.8 201.7L905.9 203.8L906 205.6L906.2 207.5L906.3 209.5L906.4 211.8L906.5 214.3L906.6 216.9L906.8 219.7L906.9 222.5L907 225.3L907.1 228.2L907.3 231.1L907.4 234L907.5 236.8L907.6 239.5L907.7 242.1L907.9 244.6L908 247L908.1 249.1L908.2 251.1L908.4 252.8L908.5 254.3L908.6 255.5L909.1 259.3L909.6 262.5L910.1 265.2L910.6 267.6L911 269.6L911.5 271.5L912 273.3L912.5 275.2L913 277.3L913.6 279.9L914.2 282.5L914.8 285L915.4 287.5L916 289.9L916.6 292.3L917.2 294.6L917.8 296.9L918.4 299.1L919 301.4L919.7 303.7L920.3 306L920.9 308.2L921.5 310.3L922.2 312.4L922.8 314.4L923.6 316.8L924.4 319.2L925.2 321.6L925.9 323.8L926.7 325.9L927.5 327.9L928.3 329.7L929.4 332L930.5 334.3L931.6 336.4L932.6 338.4L933.7 340.1L934.8 341.6L935.9 342.8L937.7 344.4L939.5 345.8L941.3 347L943.2 348.1L945 348.9L946.8 349.4L949 349.9L951.2 350.3L953.4 350.7L955.5 351L957.7 351.2L959.9 351.4L962.1 351.5L964.4 351.6L966.7 351.7L969.1 351.8L971.4 351.8L973.7 351.9L976 351.9L978.4 352L980.7 352L983 352" stroke="#DAA62C" stroke-dasharray="3.9 3.5"/>
<path d="M596.4 352L598.6 352L600.9 351.9L603.1 351.7L605.3 351.5L607.5 351.3L609.8 351L612 350.6L613.8 350L615.6 349L617.4 347.7L619.2 346.3L620.8 345L622.4 343.4L624 341.5L625.6 339.2L626.4 337.6L627.3 335.5L628.1 333.2L629 330.6L629.8 327.9L630.4 325.9L631 323.7L631.5 321.4L632.1 319L632.7 316.5L633.2 314.5L633.6 312.5L634.1 310.4L634.6 308.2L635 306L635.5 303.7L635.9 301.6L636.3 299.5L636.8 297.2L637.2 294.9L637.6 292.3L637.9 290.3L638.2 288.1L638.5 285.8L638.8 283.4L639.1 281L639.4 278.8L639.7 276.7L639.9 274.5L640.2 272.1L640.5 269.6L640.7 267.9L640.9 266.3L641.1 264.7L641.3 262.9L641.5 260.6L641.7 257.7L641.9 254L641.9 253L642 251.8L642 250.3L642.1 248.5L642.1 246.3L642.2 243.7L642.2 240.6L642.3 236.9L642.3 232.6L642.3 231.5L642.3 230.2L642.3 228.4L642.3 226.5L642.3 224.2L642.3 221.8L642.4 219.1L642.4 216.3L642.4 213.4L642.4 210.4L642.4 207.3L642.4 204.2L642.4 202.4L642.4 200.5L642.4 198.4L642.4 196.1L642.4 193.8L642.4 191.3L642.4 188.7L642.4 186.1L642.4 183.4L642.4 180.7L642.5 177.9L642.5 175.1L642.5 172.3L642.5 169.6L642.5 166.8L642.5 164.2L642.5 161.6L642.5 159L642.5 156.6L642.5 154.3L642.5 152.1L642.5 150L642.5 147L642.5 143.9L642.5 140.8L642.5 137.7L642.5 134.6L642.5 131.5L642.5 128.4L642.6 125.3L642.6 122.3L642.6 119.2L642.6 116.2L642.6 113.3L642.6 110.5L642.6 107.7L642.6 104.9L642.6 102.3L642.6 99.8L642.6 97.3L642.6 95L642.6 92.8L642.6 90.8L642.7 88.8L642.7 87.1L642.7 85.4L642.7 84L642.7 82.7L642.7 81.6L642.7 80.7L642.7 80L642.8 75.5L642.8 71.4L642.9 67.8L642.9 64.6L643 61.9L643 59.6L643.1 57.8L643.1 56.3L643.2 55.3L643.2 54.7L643.3 54.5L643.4 54.8L643.5 55.6L643.6 57L643.7 58.8L643.8 61L644 63.6L644.1 66.5L644.2 69.6L644.3 72.9L644.4 76.4L644.5 80L644.5 81.2L644.6 82.7L644.6 84.3L644.6 86.1L644.7 88L644.7 90.1L644.7 92.3L644.8 94.6L644.8 97.1L644.8 99.6L644.9 102.2L644.9 104.9L644.9 107.6L645 110.4L645 113.3L645.1 116.1L645.1 119L645.1 121.9L645.2 124.7L645.2 127.5L645.2 130.3L645.3 133.1L645.3 135.8L645.3 138.4L645.4 140.9L645.4 143.4L645.4 145.7L645.5 147.9L645.5 150L645.5 152.8L645.6 155.5L645.6 158.3L645.7 161L645.7 163.8L645.8 166.4L645.8 169.1L645.9 171.7L645.9 174.3L646 176.8L646 179.3L646.1 181.7L646.1 184.1L646.2 186.3L646.2 188.6L646.3 190.7L646.3 192.7L646.4 194.7L646.4 196.6L646.5 198.3L646.5 200L646.6 202.8L646.7 205.4L646.8 207.8L646.9 210L646.9 212.1L647 214.2L647.1 216.3L647.2 218.4L647.3 221L647.4 223.9L647.5 226.9L647.6 229.8L647.7 232.4L647.8 234.5L647.9 236.1L648 236.9L649.3 239.7L650.5 240.8L651.8 242.6L652.2 243.8L652.7 245.3L653.1 247.2L653.6 249.6L654 252.5L654.2 254.3L654.4 256.7L654.5 259.2L654.7 261.1L655.2 264.4L655.6 267L656.1 269.2L656.6 271.2L657 273.1L657.5 275.3L658 277.7L658.5 280.1L659 282.5L659.4 284.9L659.9 287.2L660.4 289.5L660.9 291.7L661.3 293.9L661.8 296.1L662.3 298.3L662.7 300.4L663.2 302.3L663.8 304.6L664.4 306.9L665 309L665.6 311L666.2 313.1L666.8 315.1L667.5 317.5L668.2 319.9L668.9 322.3L669.6 324.5L670.3 326.4L671.4 328.9L672.5 331.2L673.5 333.2L674.6 335L676 337.1L677.5 339L678.9 340.6L680.3 342.1L682 343.7L683.7 345.2L685.4 346.6L687.1 347.7L688.8 348.5L691.1 349.3L693.4 350L695.6 350.6L697.9 351L700.2 351.3L702.4 351.5L704.6 351.7L706.8 351.8L709 351.9L711.2 352L713.4 352.1L715.6 352.1" stroke="#70308C" stroke-dasharray="14.9 3.6 7.5 3.6"/>
</g>
<rect x="82.6" y="482" width="387.6" height="315.4" fill="none" stroke="#262626" stroke-width="1.3"/>
<path d="M276.4 797.4v-4.2M276.4 482v4.2" stroke="#262626" stroke-width="1.3"/>
<path d="M82.6 692.3h4.2M470.2 692.3h-4.2" stroke="#262626" stroke-width="1.3"/>
<path d="M82.6 587.1h4.2M470.2 587.1h-4.2" stroke="#262626" stroke-width="1.3"/>
<g transform="translate(0 840) scale(1 1.0) translate(0 -840)"><text x="74.1" y="840" font-size="30.4" fill="#262626" stroke="#262626" stroke-width="0.45">0</text></g>
<g transform="translate(0 840) scale(1 1.0) translate(0 -840)"><text x="255.3" y="840" font-size="30.4" fill="#262626" stroke="#262626" stroke-width="0.45">0.5</text></g>
<g transform="translate(0 840) scale(1 1.0) translate(0 -840)"><path transform="translate(461.7 840) scale(0.03040 -0.03040)" d="M372 0H283V497H106V558C230 568 290 608 311 695H372Z" fill="#262626" stroke="#262626" stroke-width="14.8"/></g>
<g transform="translate(0 810) scale(1 1.0) translate(0 -810)"><text x="54.7" y="810" font-size="30.4" fill="#262626" stroke="#262626" stroke-width="0.45">0</text></g>
<g transform="translate(0 704.9) scale(1 1.0) translate(0 -704.9)"><text x="54.7" y="704.9" font-size="30.4" fill="#262626" stroke="#262626" stroke-width="0.45">5</text></g>
<g transform="translate(0 599.7) scale(1 1.0) translate(0 -599.7)"><path transform="translate(37.8 599.7) scale(0.03040 -0.03040)" d="M372 0H283V497H106V558C230 568 290 608 311 695H372Z" fill="#262626" stroke="#262626" stroke-width="14.8"/><text x="54.7" y="599.7" font-size="30.4" fill="#262626" stroke="#262626" stroke-width="0.45">0</text></g>
<g transform="translate(0 494.6) scale(1 1.0) translate(0 -494.6)"><path transform="translate(37.8 494.6) scale(0.03040 -0.03040)" d="M372 0H283V497H106V558C230 568 290 608 311 695H372Z" fill="#262626" stroke="#262626" stroke-width="14.8"/><text x="54.7" y="494.6" font-size="30.4" fill="#262626" stroke="#262626" stroke-width="0.45">5</text></g>
<g transform="translate(0 468.2) scale(1 1.0) translate(0 -468.2)"><text x="247.9" y="468.2" font-size="33" fill="#000" stroke="#000" stroke-width="0.2">n</text><path transform="translate(266.3 468.2) scale(0.03300 -0.03300)" d="M38 113H546V186H38ZM38 314H546V387H38Z" fill="#000" stroke="#000" stroke-width="6.1"/><text x="285.5" y="468.2" font-size="33" fill="#000" stroke="#000" stroke-width="0.2">3</text></g>
<g clip-path="url(#c10)" fill="none" stroke-width="4.8" stroke-linejoin="round">
<path d="M83.8 796.7L86.1 796.7L88.5 796.7L90.8 796.6L93.1 796.6L95.4 796.5L97.8 796.4L100.1 796.3L102.4 796.2L104.7 796L107.1 795.9L109.4 795.7L111.7 795.4L114 794.7L116.2 793.9L118.5 793L120.3 792.1L122.2 791L124 789.8L125.9 788.3L127.7 786.6L128.9 785.3L130.1 783.8L131.3 782L132.6 780L133.8 777.9L135 775.6L135.8 773.9L136.6 772.1L137.4 770L138.1 767.9L138.9 765.6L139.7 763.3L140.5 761L141.1 759.1L141.8 757.2L142.4 755.2L143.1 753.2L143.7 751L144.4 748.8L145 746.4L145.5 744.3L145.9 741.8L146.4 739.2L146.9 736.8L147.3 734.8L147.8 733.6L149.2 732.2L150.5 730.9L151.4 729.5L152.3 727.8L153.3 725.5L154.2 722.6L154.5 721.3L154.8 719.7L155.1 717.7L155.4 715.4L155.7 712.8L156 709.9L156.1 708.4L156.3 706.9L156.4 705.2L156.6 703.2L156.7 701L156.9 698.5L157 695.5L157.2 692L157.3 687.9L157.3 686.7L157.4 685.1L157.4 683.2L157.4 681.1L157.5 678.7L157.5 676.1L157.5 673.3L157.6 670.5L157.6 667.6L157.6 664.7L157.7 661.8L157.7 659L157.7 656.3L157.8 653.7L157.8 651.4L157.8 648.7L157.9 645.8L157.9 642.8L158 639.8L158 636.7L158 633.7L158.1 630.7L158.1 627.9L158.2 625.2L158.2 622.8L158.2 620.5L158.3 618.6L158.3 616.9L158.4 615.7L158.4 614.8L158.7 611L158.9 608L159.2 605.8L159.4 604.5L159.7 604L160.1 604.4L160.4 605.5L160.8 607.6L161.1 610.6L161.5 614.8L161.5 615.5L161.6 616.7L161.6 618.4L161.6 620.5L161.7 622.9L161.7 625.5L161.7 628.4L161.8 631.4L161.8 634.5L161.8 637.6L161.9 640.7L161.9 643.7L161.9 646.5L162 649.1L162 651.4L162 654.2L162.1 657L162.1 659.8L162.2 662.7L162.2 665.5L162.3 668.4L162.3 671.2L162.3 673.9L162.4 676.7L162.4 679.3L162.5 681.8L162.5 684.3L162.5 686.6L162.6 688.8L162.6 690.8L162.7 692.7L162.7 694.3L162.8 695.8L162.8 697.1L162.9 700.8L163.1 704.1L163.2 707.1L163.4 709.9L163.5 712.3L163.6 714.5L163.8 716.4L163.9 718.1L164.1 719.5L164.2 720.8L164.7 724.4L165.1 727.5L165.6 730.2L166.1 732.5L166.5 734.5L167 736.2L167.4 737.7L167.9 739.1L168.8 741.2L169.7 742.8L170.6 744.4L171.5 746.4L172 748L172.6 750L173.1 752.3L173.6 754.6L174.1 756.9L174.7 759.1L175.2 761L176 763.4L176.7 765.7L177.5 767.8L178.3 769.8L179 771.8L179.8 773.8L180.7 776.2L181.6 778.7L182.5 781.1L183.4 783.2L184.3 784.8L185.8 786.8L187.2 788.6L188.7 790.1L190.1 791.3L191.6 792.1L193.7 792.9L195.8 793.6L197.9 794.2L200 794.8L202.1 795.2L204.2 795.5L206.3 795.7L208.6 795.9L211 796.1L213.3 796.3L215.6 796.4L217.9 796.6L220.3 796.7L222.6 796.8L224.9 796.9L227.2 796.9L229.6 797L231.9 797" stroke="#3D71B8"/>
<path d="M291.6 797L294 797L296.4 797L298.8 796.9L301.2 796.8L303.6 796.7L306.1 796.6L308.5 796.5L310.9 796.4L313.3 796.3L315.7 796.1L318.1 796L320.5 795.8L322.8 795.6L325 795.4L327.2 795.1L329.5 794.8L331.8 794.4L334 793.9L335.9 793.3L337.9 792.4L339.8 791.3L341.7 790.1L343.6 788.8L345.6 787.4L347.5 786.1L349.4 784.9L351.4 783.6L353.3 782.3L355.2 780.9L357.2 779.3L359.1 777.5L360.4 776.1L361.7 774.4L363 772.5L364.2 770.4L365.5 768.2L366.8 765.9L367.8 764L368.7 761.8L369.7 759.5L370.7 757.1L371.6 754.7L372.6 752.4L373.6 750.1L374.5 747.7L375.5 745.2L376.5 742.9L377.4 740.8L378.4 738.9L379.6 737.1L380.8 735.7L382 734.2L383.2 732.1L383.8 730.7L384.3 729L384.9 727L385.4 724.7L386 722L386.5 719L387.1 715.7L387.3 714.1L387.6 712.3L387.8 710.2L388.1 707.9L388.3 705.3L388.5 702.6L388.8 699.7L389 696.5L389.1 694.6L389.2 692.5L389.4 690.1L389.5 687.6L389.6 684.9L389.8 682.3L389.9 679.7L390 677.2L390.1 674.8L390.2 672.5L390.4 670.2L390.5 668L390.6 665.7L390.8 663.5L390.9 661.2L391 658.8L391.1 656.3L391.2 653.7L391.4 651L391.5 648.2L391.6 646L391.7 643.4L391.8 640.4L391.8 637.3L391.9 634L392 630.9L392.1 627.9L392.2 625.1L392.2 622.8L392.3 621L392.4 619.8L392.5 619.4L392.7 619.7L393 620.5L393.2 621.8L393.4 623.6L393.6 625.8L393.9 628.4L394.1 631.4L394.3 634.8L394.6 638.4L394.8 642.4L394.9 643.6L394.9 645.2L395 647.1L395 649.3L395.1 651.7L395.1 654.3L395.2 657.1L395.2 660L395.3 662.9L395.4 665.8L395.4 668.7L395.5 671.5L395.5 674.2L395.6 676.7L395.6 679L395.7 681L395.8 684L395.9 686.9L396 689.8L396.1 692.5L396.2 695.2L396.2 697.7L396.3 700.1L396.4 702.3L396.5 704.4L396.6 706.3L396.7 708L396.9 711.2L397.1 714.3L397.3 717.2L397.5 719.8L397.6 722.3L397.8 724.5L398 726.5L398.2 728.3L398.4 729.9L398.6 731.2L399.2 734.4L399.8 737L400.3 739.1L400.9 741L401.5 742.7L402.5 745.4L403.4 747.8L404.4 750L405.4 752L406.4 754L407.3 756L408.3 758.2L409.1 760.2L409.9 762.2L410.7 764.3L411.5 766.3L412.3 768.2L413.1 769.8L414.5 772.2L415.8 774.4L417.2 776.4L418.6 778.3L420 780L421.3 781.7L422.7 783.3L424.3 785.1L425.8 786.9L427.4 788.6L428.9 790L430.5 791L432.7 792.1L434.9 793L437.1 793.8L439.3 794.5L441.5 795.1L443.7 795.5L445.9 795.8L448.4 796L450.8 796.2L453.3 796.4L455.7 796.5L458.2 796.7L460.7 796.8L463.1 796.9L465.6 796.9L468 797L470.5 797" stroke="#BF5129" stroke-dasharray="15 14.5"/>
<path d="M83.8 797.4L86.2 797.4L88.7 797.4L91.1 797.4L93.6 797.4L96 797.4L98.4 797.3L100.9 797.3L103.3 797.3L105.8 797.3L108.2 797.2L110.6 797.2L113.1 797.1L115.5 797.1L117.9 797L120.4 796.9L122.8 796.9L125.3 796.8L127.7 796.7L129.9 796.4L132.1 795.7L134.3 794.6L136.5 793.4L138.7 792.1L140.2 791.1L141.7 789.8L143.2 788.2L144.8 786.6L146.3 784.8L147.8 783L149 781.5L150.2 780L151.4 778.3L152.7 776.5L153.9 774.4L155.1 772L155.8 770.4L156.4 768.6L157.1 766.5L157.7 764.3L158.4 762L159 759.7L159.7 757.4L160.3 755.4L160.9 753.4L161.5 751.3L162.1 749.2L162.7 746.9L163.3 744.6L163.8 742.6L164.2 740.4L164.7 738.1L165.2 735.8L165.6 733.7L166.1 731.8L166.8 729.5L167.5 727.7L168.3 726L169 723.8L169.7 720.8L169.9 719.6L170.1 718.1L170.4 716.3L170.6 714.2L170.8 711.8L171.1 709.1L171.3 706L171.5 702.5L171.6 701.2L171.6 699.7L171.7 698L171.8 696.1L171.9 694L171.9 691.8L172 689.4L172.1 686.8L172.1 684.2L172.2 681.4L172.3 678.6L172.4 675.6L172.4 672.6L172.5 669.6L172.5 667.8L172.6 665.8L172.6 663.8L172.7 661.6L172.7 659.3L172.7 657L172.8 654.6L172.8 652.1L172.9 649.5L172.9 646.9L172.9 644.2L173 641.5L173 638.8L173.1 636.1L173.1 633.4L173.2 630.6L173.2 627.9L173.2 625.2L173.3 622.5L173.3 619.9L173.4 617.3L173.4 614.8L173.4 612.2L173.5 609.5L173.5 606.7L173.6 603.8L173.6 600.8L173.6 597.7L173.7 594.7L173.7 591.6L173.8 588.5L173.8 585.5L173.9 582.5L173.9 579.6L173.9 576.8L174 574.2L174 571.6L174.1 569.3L174.1 567.1L174.1 565.2L174.2 563.5L174.2 562L174.3 560.9L174.3 560L174.5 556.7L174.7 554L174.9 551.8L175.1 550.5L175.3 550L175.4 550.4L175.5 551.7L175.7 553.7L175.8 556.5L175.9 560L175.9 560.6L175.9 561.6L175.9 562.9L176 564.5L176 566.3L176 568.4L176 570.8L176 573.3L176 576.1L176 579L176 582L176.1 585.1L176.1 588.4L176.1 591.6L176.1 595L176.1 598.3L176.1 601.6L176.1 604.9L176.2 608.2L176.2 611.3L176.2 614.4L176.2 617.3L176.2 620L176.2 622.6L176.2 625L176.2 627.2L176.3 629.1L176.3 630.7L176.3 632.1L176.3 633.1L176.4 637.9L176.5 642.4L176.5 646.6L176.6 650.5L176.7 654.2L176.8 657.6L176.8 660.7L176.9 663.7L177 666.4L177.1 668.9L177.2 671.2L177.2 673.4L177.3 675.4L177.4 677.2L177.5 678.9L177.5 680.4L177.6 681.9L177.7 683.3L177.8 684.5L177.8 685.7L177.9 686.8L178 687.9L178.3 691.7L178.6 694.9L178.9 697.8L179.2 700.2L179.5 702.4L179.8 704.3L180.1 706.2L180.4 708L180.7 709.9L181.1 712.8L181.6 715.5L182.1 718.1L182.5 720.5L182.9 722.6L183.4 724.5L184.1 727.1L184.9 729.2L185.6 731.1L186.4 733.1L187.1 735.4L187.6 737.4L188.2 739.6L188.7 742L189.3 744.3L189.8 746.4L190.4 748.7L191 751L191.7 753.2L192.3 755.3L192.9 757.3L193.5 759.2L194.4 761.7L195.3 764.1L196.2 766.2L197.1 768.3L198.2 770.8L199.3 773.1L200.4 775.4L201.5 777.5L202.6 779.3L204.1 781.5L205.5 783.6L207 785.4L208.4 787.1L209.9 788.4L211.7 789.9L213.6 791.2L215.4 792.4L217.2 793.4L219.1 794.2L220.9 794.8L223.2 795.3L225.6 795.7L227.9 796.1L230.3 796.4L232.6 796.7L235 796.9L237.3 797L239.4 797.1L241.6 797.2L243.7 797.3L245.8 797.3L248 797.4L250.1 797.4" stroke="#DAA62C" stroke-dasharray="3.9 3.5"/>
<path d="M357.2 797L359.7 797L362.1 796.9L364.6 796.8L367.1 796.6L369.6 796.4L372 796.1L374.5 795.8L376.4 795.2L378.4 794.2L380.3 792.7L382.2 791L383.4 789.7L384.5 788L385.7 786L386.8 783.7L388 781.3L388.8 779.5L389.6 777.4L390.4 775.2L391.2 772.8L392 770.3L392.8 767.8L393.4 765.9L394 763.9L394.6 761.9L395.2 759.8L395.9 757.6L396.5 755.4L397.1 753L397.7 750.5L398.2 748.5L398.6 746.6L399.1 744.5L399.6 742.4L400.1 740L400.6 737.4L401 734.5L401.5 731.2L401.7 729.7L401.9 728.1L402.1 726.4L402.3 724.5L402.5 722.4L402.7 720.1L402.9 717.5L403.1 714.7L403.3 711.5L403.5 708L403.6 706.5L403.6 704.8L403.7 702.7L403.8 700.4L403.8 698L403.9 695.4L404 692.7L404.1 690L404.1 687.2L404.2 684.5L404.3 681.9L404.3 679.5L404.4 677.2L404.5 674.6L404.6 672.2L404.6 669.8L404.7 667.4L404.8 665.1L404.9 662.8L405 660.5L405.1 658.2L405.1 655.8L405.2 653.4L405.3 650.8L405.4 648.2L405.5 645.8L405.5 643.1L405.6 640.1L405.7 636.9L405.7 633.7L405.8 630.6L405.9 627.6L405.9 625L406 622.7L406.1 620.9L406.1 619.8L406.2 619.4L406.3 619.6L406.4 620.2L406.5 621.1L406.6 622.4L406.7 624.1L406.8 626L406.9 628.2L406.9 630.7L407 633.4L407.1 636.4L407.2 639.6L407.3 642.9L407.4 646.5L407.5 650.1L407.6 654L407.7 657.9L407.7 659.3L407.8 661.1L407.8 663.2L407.8 665.5L407.8 668.1L407.9 670.9L407.9 673.9L407.9 676.9L408 680.1L408 683.2L408 686.4L408 689.5L408.1 692.5L408.1 695.3L408.1 698L408.2 700.5L408.2 702.7L408.2 704.5L408.2 706.1L408.3 707.3L408.3 708L408.6 712.7L408.9 716.7L409.2 719.9L409.5 722.5L409.8 724.7L410 726.4L410.3 727.8L410.6 729L410.9 730.1L411.2 731.2L412.2 734.3L413.1 736.6L414.1 738.4L415 740.3L416 742.7L416.6 744.6L417.2 746.6L417.8 748.8L418.4 751.2L419 753.5L419.6 755.8L420.2 758L420.8 760.1L421.5 762.5L422.2 764.9L423 767.3L423.7 769.6L424.4 771.9L425.2 773.9L425.9 775.8L426.6 777.5L427.9 780.2L429.2 782.7L430.5 785L431.7 787.1L433 788.7L434.3 790L436.2 791.5L438.2 792.8L440.1 793.9L442 794.8L444 795.5L445.9 795.8L448.4 796L450.8 796.2L453.3 796.4L455.7 796.6L458.2 796.7L460.7 796.8L463.1 796.9L465.6 797L468 797L470.5 797" stroke="#70308C" stroke-dasharray="14.9 3.6 7.5 3.6"/>
</g>
<text transform="translate(23.0 642) rotate(-90) scale(1 1.0)" font-size="32.9" fill="#262626" stroke="#262626" stroke-width="0.45" text-anchor="middle">Distribution</text>
<rect x="595.1" y="482" width="387.6" height="315.4" fill="none" stroke="#262626" stroke-width="1.3"/>
<path d="M788.9 797.4v-4.2M788.9 482v4.2" stroke="#262626" stroke-width="1.3"/>
<path d="M595.1 639.7h4.2M982.7 639.7h-4.2" stroke="#262626" stroke-width="1.3"/>
<g transform="translate(0 840) scale(1 1.0) translate(0 -840)"><text x="586.6" y="840" font-size="30.4" fill="#262626" stroke="#262626" stroke-width="0.45">0</text></g>
<g transform="translate(0 840) scale(1 1.0) translate(0 -840)"><text x="767.8" y="840" font-size="30.4" fill="#262626" stroke="#262626" stroke-width="0.45">0.5</text></g>
<g transform="translate(0 840) scale(1 1.0) translate(0 -840)"><path transform="translate(974.2 840) scale(0.03040 -0.03040)" d="M372 0H283V497H106V558C230 568 290 608 311 695H372Z" fill="#262626" stroke="#262626" stroke-width="14.8"/></g>
<g transform="translate(0 810) scale(1 1.0) translate(0 -810)"><text x="567.2" y="810" font-size="30.4" fill="#262626" stroke="#262626" stroke-width="0.45">0</text></g>
<g transform="translate(0 652.3) scale(1 1.0) translate(0 -652.3)"><text x="567.2" y="652.3" font-size="30.4" fill="#262626" stroke="#262626" stroke-width="0.45">5</text></g>
<g transform="translate(0 494.6) scale(1 1.0) translate(0 -494.6)"><path transform="translate(550.3 494.6) scale(0.03040 -0.03040)" d="M372 0H283V497H106V558C230 568 290 608 311 695H372Z" fill="#262626" stroke="#262626" stroke-width="14.8"/><text x="567.2" y="494.6" font-size="30.4" fill="#262626" stroke="#262626" stroke-width="0.45">0</text></g>
<g transform="translate(0 468.2) scale(1 1.0) translate(0 -468.2)"><text x="760.4" y="468.2" font-size="33" fill="#000" stroke="#000" stroke-width="0.2">n</text><path transform="translate(778.8 468.2) scale(0.03300 -0.03300)" d="M38 113H546V186H38ZM38 314H546V387H38Z" fill="#000" stroke="#000" stroke-width="6.1"/><text x="798" y="468.2" font-size="33" fill="#000" stroke="#000" stroke-width="0.2">4</text></g>
<g clip-path="url(#c11)" fill="none" stroke-width="4.8" stroke-linejoin="round">
<path d="M597.2 796.8L599.6 796.8L601.9 796.8L604.3 796.8L606.7 796.7L609.1 796.7L611.4 796.7L613.8 796.6L616.2 796.6L618.5 796.5L620.9 796.4L623.3 796.4L625.7 796.3L628 796.2L630.4 796.1L632.8 796L635.2 795.9L637.5 795.8L639.9 795.7L642.1 795.5L644.4 795.3L646.6 795L648.9 794.6L651.1 794.2L653.3 793.7L655.6 793.2L657.8 792.7L660.1 792.1L662.3 791.6L664.5 791L666.8 790.4L669 789.7L671.3 789L673.5 788.1L675.8 787.1L677.6 786.1L679.4 784.9L681.1 783.5L682.9 781.9L684.7 780.4L686.2 779.1L687.7 777.7L689.2 776.3L690.7 774.8L692.2 773.2L693.7 771.4L695 769.6L696.4 767.5L697.7 765.4L699.1 763.3L700.4 761.3L701.9 759.5L703.4 757.8L704.9 755.7L705.8 753.9L706.7 751.7L707.6 749.3L708.5 746.8L709.4 744.5L710.3 742.4L711.2 740.2L712.1 738.1L713 736.2L713.9 734.4L715.2 732.2L716.6 730.3L717.9 728.5L719.3 726.6L720.6 724.3L721.5 722.4L722.5 720.2L723.4 717.8L724.3 715.4L725.3 713.1L726.2 710.9L727.2 709L728.1 707.5L729.1 706.1L730.1 704.5L731.1 702.7L732 700.4L733 697.4L733.3 696.2L733.5 694.7L733.8 692.8L734.1 690.7L734.4 688.2L734.7 685.5L734.9 682.6L735.2 679.5L735.3 678L735.4 676.2L735.6 674.3L735.7 672.3L735.8 670L735.9 667.7L736.1 665.2L736.2 662.6L736.3 660L736.4 657.2L736.5 654.4L736.7 651.6L736.8 648.7L736.9 645.9L737 643L737.2 640.1L737.3 637.3L737.4 634.6L737.5 632.4L737.6 630.1L737.7 627.8L737.8 625.5L737.9 623.2L738 620.9L738.1 618.5L738.2 616.2L738.3 613.8L738.4 611.4L738.5 608.9L738.6 606.5L738.7 604L738.8 601.5L738.9 599L739 596.5L739.1 594L739.2 591.4L739.3 588.9L739.4 586.3L739.5 583.7L739.6 581.1L739.7 578.5L739.8 576.1L739.9 573.7L740 571.2L740.1 568.6L740.1 566L740.2 563.4L740.3 560.7L740.4 558L740.5 555.4L740.6 552.7L740.7 550.1L740.8 547.6L740.9 545L740.9 542.6L741 540.2L741.1 537.9L741.2 535.7L741.3 533.6L741.4 530.7L741.5 527.5L741.7 524.3L741.8 521.1L741.9 518.2L742 515.7L742.2 513.8L742.3 512.5L742.4 512L742.5 512.3L742.7 513.2L742.8 514.6L742.9 516.4L743 518.6L743.2 521.1L743.3 523.9L743.4 526.8L743.6 529.9L743.7 533L743.8 536.2L743.9 539.2L744.1 542.2L744.2 544.9L744.3 547.1L744.4 549.4L744.5 551.7L744.6 554L744.7 556.4L744.9 558.8L745 561.3L745.1 563.8L745.2 566.4L745.3 569.1L745.4 571.8L745.5 574.6L745.6 576.8L745.7 579.1L745.7 581.5L745.8 584.1L745.9 586.7L746 589.4L746.1 592.3L746.1 595.1L746.2 598L746.3 600.9L746.4 603.8L746.5 606.8L746.5 609.6L746.6 612.5L746.7 615.3L746.8 618L746.9 620.7L746.9 623.2L747 625.6L747.1 627.9L747.2 630L747.3 632L747.3 633.8L747.4 635.4L747.5 636.8L747.7 640.6L748 644.2L748.2 647.6L748.5 650.7L748.7 653.6L749 656.4L749.2 658.9L749.5 661.3L749.7 663.5L750 665.6L750.2 667.5L750.5 669.3L750.7 671L751 672.6L751.2 674.1L751.8 677.4L752.3 680.5L752.9 683.5L753.5 686.3L754 688.9L754.6 691.3L755.1 693.4L755.7 695.3L756.3 696.8L756.8 698.1L757.4 699L759 700.7L760.5 701.8L762 702.8L763.6 704L765.2 705.5L766.8 707.2L768.3 709.1L769.9 711.4L770.7 712.9L771.5 714.8L772.3 716.8L773.2 719.1L774 721.5L774.8 723.9L775.4 726L776 728.3L776.7 730.9L777.3 733.5L777.9 736L778.5 738.2L779.2 740L779.8 741.3L781 742.7L782.3 743.7L783.5 745L784.5 746.8L785.4 749.2L786.3 751.7L787.3 753.7L788.8 756.1L790.3 758.2L791.7 760L793.2 761.8L794.7 763.7L796.1 765.6L797.6 767.5L799 769.4L800.4 771.2L801.8 773L803.3 774.6L804.7 776.1L806.5 777.8L808.2 779.5L810 781.1L811.8 782.6L813.6 784L815.3 785.1L817.1 786.1L819.2 787L821.4 787.9L823.5 788.6L825.6 789.3L827.7 789.9L829.9 790.5L832 791L834.2 791.5L836.4 792.1L838.6 792.6L840.8 793L843.1 793.5L845.3 793.9L847.5 794.2L849.7 794.5L851.9 794.8L854.4 795.1L856.9 795.3L859.4 795.5L861.9 795.7L864.3 795.9L866.8 796.1L869.3 796.2L871.8 796.4L874.3 796.4L876.8 796.5L879.3 796.5L881.8 796.6L884.3 796.6L886.7 796.6L889.2 796.7L891.7 796.7L894.2 796.7L896.7 796.7L899.2 796.7L901.7 796.8L904.2 796.8L906.6 796.8L909.1 796.8L911.6 796.8L914.1 796.8" stroke="#3D71B8"/>
<path d="M642.1 797.2L644.5 797.2L646.8 797.2L649.2 797.2L651.6 797.2L653.9 797.1L656.3 797.1L658.7 797.1L661 797.1L663.4 797L665.8 797L668.1 796.9L670.5 796.9L672.9 796.8L675.2 796.8L677.6 796.7L680 796.6L682.3 796.6L684.7 796.5L687 796.4L689.2 796.2L691.5 795.9L693.7 795.6L696 795.3L698.2 794.8L700.5 794.4L702.7 793.9L704.9 793.3L707.2 792.5L709.4 791.5L711.7 790.5L713.9 789.4L715.9 788.5L717.8 787.5L719.8 786.5L721.8 785.4L723.7 784.2L725.7 783L727.6 781.7L729.6 780.4L731.4 779.1L733.2 777.7L735 776.1L736.8 774.4L738.6 772.5L739.8 771.1L741.1 769.5L742.3 767.8L743.6 766L744.8 764.1L746.1 762.2L747.3 760.1L748.6 757.9L749.8 755.7L750.8 753.8L751.8 751.8L752.8 749.7L753.8 747.5L754.8 745.2L755.8 742.9L756.8 740.5L757.8 738L758.8 735.5L759.6 733.5L760.4 731.6L761.2 729.6L762 727.5L762.8 725.2L763.6 722.7L764.4 719.8L764.8 718.2L765.2 716.3L765.6 714.4L766 712.2L766.5 709.9L766.9 707.4L767.3 704.7L767.7 701.9L767.9 700.2L768.2 698.5L768.4 696.6L768.6 694.6L768.9 692.5L769.1 690.2L769.3 687.8L769.5 685.2L769.8 682.4L770 679.5L770.1 677.8L770.2 676L770.4 674L770.5 671.8L770.6 669.6L770.7 667.2L770.9 664.8L771 662.3L771.1 659.6L771.2 657L771.3 654.2L771.5 651.5L771.6 648.7L771.7 645.9L771.8 643L772 640.2L772.1 637.4L772.2 634.6L772.3 632.5L772.4 630.3L772.5 628L772.6 625.7L772.7 623.4L772.8 621L772.9 618.6L772.9 616.2L773 613.8L773.1 611.4L773.2 609L773.3 606.6L773.4 604.2L773.5 601.8L773.6 599.5L773.7 597L773.8 594.4L773.9 591.7L774 589L774.1 586.4L774.2 583.7L774.3 581.1L774.4 578.6L774.5 576.2L774.6 573.9L774.7 571.7L774.8 569.7L775 566.6L775.1 563.4L775.3 560.2L775.5 557.3L775.6 554.7L775.8 552.5L775.9 550.8L776.1 549.8L776.9 546.9L777.8 545.1L778.6 544.5L778.8 544.8L779 545.5L779.2 546.8L779.3 548.4L779.5 550.5L779.7 552.8L779.9 555.5L780.1 558.3L780.3 561.4L780.4 564.6L780.6 567.9L780.8 571.2L781 574.6L781.1 576.3L781.2 578.3L781.3 580.4L781.3 582.8L781.4 585.3L781.5 588L781.6 590.7L781.7 593.5L781.8 596.3L781.9 599.1L782 601.9L782 604.6L782.1 607.1L782.2 609.6L782.3 611.9L782.4 614.7L782.5 617.4L782.6 620.1L782.7 622.8L782.8 625.5L783 628L783.1 630.5L783.2 632.9L783.3 635.1L783.4 637.3L783.5 639.3L783.7 642.5L783.9 645.7L784 648.8L784.2 651.9L784.4 655L784.6 657.9L784.8 660.7L784.9 663.3L785.1 665.7L785.3 667.9L785.5 669.9L785.6 671.6L785.8 673L786 674.1L786.8 677.9L787.5 681.3L788.3 684.3L789.1 686.8L789.9 688.8L790.7 690.3L791.4 691.2L792.2 691.5L794.7 691.5L797.2 691.5L799.7 691.5L801.4 692.3L803 694.3L804.7 696.5L805.9 698.2L807.2 700.2L808.4 702.4L809.6 704.7L810.9 706.9L812.1 709L813.4 711L814.6 713L815.9 714.9L817.1 716.9L818.4 718.9L819.6 721L820.9 723.3L822.1 725.6L823.4 727.9L824.6 730.1L825.9 732.1L827.1 733.8L828.7 735.5L830.4 736.9L832 738.8L832.8 740.4L833.7 742.5L834.5 744.9L835.3 747.3L836.2 749.5L837 751.2L838.5 753.5L840 755.6L841.5 757.3L843 758.8L844.5 760L846.4 761.1L848.2 761.9L850.1 762.7L852 763.7L853.6 765.1L855.3 767L857 769.1L858.6 771.2L860.2 773.2L861.9 774.9L863.7 776.4L865.4 777.8L867.2 779.1L869 780.3L870.8 781.5L872.5 782.5L874.3 783.6L876.4 784.9L878.6 786.1L880.7 787.3L882.9 788.4L885 789.4L887.2 790.3L889.3 791L891.4 791.5L893.4 792L895.5 792.4L897.6 792.8L899.6 793.1L901.7 793.5L903.8 793.9L905.8 794.2L907.9 794.6L910 794.9L912 795.2L914.1 795.5L916.2 795.7L918.4 796L920.5 796.2L922.7 796.4L924.8 796.6L927 796.7L929.1 796.8L931.5 796.8L934 796.9L936.4 796.9L938.8 797L941.3 797L943.7 797L946.1 797.1L948.5 797.1L951 797.1L953.4 797.2L955.8 797.2L958.3 797.2L960.7 797.2L963.1 797.2L965.6 797.2L968 797.3L970.4 797.3L972.8 797.3L975.3 797.3L977.7 797.3L980.1 797.3L982.6 797.3L985 797.3" stroke="#BF5129" stroke-dasharray="15 14.5"/>
<path d="M909.2 797.3L911.3 797.2L913.5 797.1L915.6 796.8L917.7 796.5L919.8 796L922 795.5L924.1 794.8L925.3 794L926.6 792.7L927.8 790.8L929 788.6L930.3 786.1L931.5 783.6L932.2 782L932.9 780.3L933.6 778.3L934.4 776.2L935.1 773.9L935.8 771.4L936.5 768.7L936.9 767L937.3 765.1L937.7 763L938.1 760.8L938.6 758.5L939 756.1L939.4 753.7L939.8 751.2L940.2 748.8L940.5 746.7L940.9 744.6L941.2 742.4L941.6 740.1L941.9 737.9L942.3 735.5L942.6 733.2L943 730.9L943.3 728.5L943.7 726.2L944 723.9L944.3 721.7L944.7 719.6L945 717.4L945.3 715.3L945.7 713.2L946 711.1L946.4 708.8L946.7 706.6L947 704.2L947.4 701.7L947.7 699L947.9 697.2L948.2 695.5L948.4 693.9L948.6 692.2L948.8 690.4L949.1 688.4L949.3 686.2L949.5 683.8L949.7 681L950 677.8L950.2 674.1L950.3 673L950.3 671.7L950.4 670.3L950.4 668.6L950.5 666.9L950.6 665L950.6 662.9L950.7 660.7L950.7 658.4L950.8 655.9L950.9 653.3L950.9 650.6L951 647.7L951 644.7L951.1 641.6L951.2 638.4L951.2 635.1L951.3 631.6L951.3 628.1L951.4 624.4L951.4 622.7L951.4 620.7L951.5 618.5L951.5 616.1L951.5 613.5L951.5 610.8L951.6 607.9L951.6 605L951.6 602L951.6 599L951.7 596L951.7 593.1L951.7 590.2L951.8 587.5L951.8 584.9L951.8 582.4L951.8 580.2L951.9 578.2L951.9 576.4L951.9 575L952 571.3L952 567.7L952.1 564.3L952.2 561.1L952.3 558.1L952.3 555.5L952.4 553.2L952.5 551.4L952.6 550L952.6 549.1L952.7 548.8L952.8 549.1L952.8 549.8L952.9 551.1L953 552.7L953 554.8L953.1 557.3L953.1 560.2L953.2 563.4L953.3 566.8L953.3 570.6L953.4 574.6L953.4 575.5L953.4 576.7L953.4 578.2L953.4 579.8L953.5 581.7L953.5 583.8L953.5 586L953.5 588.4L953.5 591L953.5 593.8L953.5 596.6L953.5 599.6L953.6 602.7L953.6 605.8L953.6 609.1L953.6 612.4L953.6 615.7L953.6 619.1L953.6 622.5L953.6 625.9L953.7 629.3L953.7 632.7L953.7 636L953.7 639.3L953.7 642.5L953.7 645.7L953.7 648.8L953.8 651.7L953.8 654.6L953.8 657.3L953.8 659.8L953.8 662.2L953.8 664.5L953.8 666.5L953.8 668.4L953.9 670L953.9 671.4L953.9 672.6L953.9 673.5L953.9 674.1L954 678.8L954.2 682.7L954.3 686L954.4 688.6L954.5 690.8L954.7 692.7L954.8 694.3L954.9 695.8L955.1 697.3L955.2 699L955.4 701.9L955.7 704.6L955.9 707.1L956.1 709.3L956.3 711.5L956.6 713.5L956.8 715.5L957 717.5L957.2 719.6L957.5 721.7L957.7 723.9L957.9 726.2L958.1 728.5L958.4 730.9L958.6 733.3L958.8 735.8L959 738.1L959.2 740.5L959.4 742.8L959.7 744.9L959.9 746.9L960.1 748.8L960.4 751.6L960.8 754.4L961.1 757L961.5 759.7L961.8 762.1L962.2 764.5L962.5 766.7L962.9 768.8L963.2 770.6L963.6 772.2L963.9 773.6L964.8 776.8L965.8 779.7L966.7 782.3L967.6 784.6L968.5 786.6L969.4 788.3L970.4 789.8L971.3 791L973.2 793.1L975 794.9L976.9 796.2L978.8 796.8L980.9 797.1L982.9 797.2L985 797.3" stroke="#DAA62C" stroke-dasharray="3.9 3.5"/>
<path d="M597.2 796.5L599.2 796.4L601.2 796L603.3 795.5L605.3 794.8L607.3 793.9L608.4 793L609.5 791.5L610.7 789.6L611.8 787.3L612.9 784.9L613.5 783.3L614.2 781.5L614.8 779.5L615.5 777.2L616.1 774.8L616.8 772.1L617.4 769.2L617.7 767.5L618.1 765.7L618.4 763.8L618.8 761.7L619.1 759.4L619.4 757.1L619.8 754.6L620.1 752.1L620.5 749.4L620.8 746.7L621 744.8L621.2 742.8L621.5 740.6L621.7 738.3L621.9 736L622.1 733.6L622.3 731.2L622.6 728.9L622.8 726.5L623 724.3L623.2 722L623.5 719.8L623.7 717.5L623.9 715.3L624.1 713.1L624.4 710.9L624.6 708.7L624.8 706.4L625.1 704.2L625.3 701.9L625.5 699.8L625.7 697.8L626 696L626.2 694.1L626.4 692.2L626.6 690.1L626.8 687.9L627.1 685.4L627.3 682.7L627.5 679.5L627.6 678.1L627.7 676.6L627.8 675.1L627.9 673.4L627.9 671.7L628 669.8L628.1 667.8L628.2 665.6L628.3 663.3L628.4 660.9L628.5 658.3L628.6 655.5L628.7 652.5L628.7 649.4L628.8 646L628.9 642.4L629 638.6L629.1 634.6L629.1 633.3L629.2 631.8L629.2 630.1L629.2 628.2L629.2 626.2L629.3 624.1L629.3 621.8L629.3 619.4L629.3 616.9L629.4 614.3L629.4 611.6L629.4 608.8L629.4 606L629.5 603.1L629.5 600.2L629.5 597.3L629.5 594.4L629.6 591.4L629.6 588.5L629.6 585.7L629.6 582.8L629.7 580L629.7 577.3L629.7 574.7L629.7 572.1L629.8 569.6L629.8 567.3L629.8 564.6L629.9 561.7L629.9 558.6L629.9 555.5L629.9 552.3L630 549L630 545.7L630 542.5L630.1 539.4L630.1 536.3L630.1 533.4L630.2 530.6L630.2 528L630.2 525.7L630.2 523.7L630.3 521.9L630.3 520.5L630.3 519.4L630.4 518.7L630.4 518.5L630.5 518.7L630.6 519.1L630.6 519.8L630.7 520.8L630.8 522.1L630.9 523.6L631 525.4L631 527.4L631.1 529.7L631.2 532.2L631.3 534.9L631.4 537.8L631.4 540.9L631.5 544.2L631.6 547.6L631.7 551.3L631.8 555L631.8 559L631.9 563.1L632 567.3L632 568.5L632 569.9L632.1 571.5L632.1 573.3L632.1 575.3L632.1 577.5L632.1 579.8L632.2 582.3L632.2 584.9L632.2 587.7L632.2 590.6L632.2 593.5L632.3 596.5L632.3 599.6L632.3 602.8L632.3 606L632.3 609.2L632.4 612.4L632.4 615.7L632.4 618.9L632.4 622.1L632.4 625.2L632.4 628.3L632.5 631.3L632.5 634.2L632.5 637.1L632.5 639.8L632.5 642.4L632.6 644.8L632.6 647.2L632.6 649.3L632.6 651.2L632.6 653L632.7 654.6L632.7 655.9L632.7 657L632.8 661.3L632.9 665.3L633 669L633.1 672.5L633.1 675.7L633.2 678.7L633.3 681.4L633.4 684L633.5 686.3L633.6 688.5L633.7 690.6L633.8 692.5L633.9 694.2L633.9 695.9L634 697.5L634.1 699L634.2 700.5L634.3 701.9L634.5 705.5L634.8 708.8L635 711.8L635.2 714.6L635.5 717.2L635.7 719.6L636 721.9L636.2 724L636.4 726.1L636.7 728L636.9 729.9L637.1 731.8L637.4 733.6L637.6 735.5L637.9 738.2L638.3 740.7L638.6 743.1L639 745.4L639.3 747.6L639.6 749.8L640 751.9L640.3 753.9L640.7 756L641 758L641.4 760.5L641.8 763L642.2 765.4L642.6 767.8L643.1 770.1L643.5 772.2L643.9 774.2L644.3 775.9L645 778.8L645.8 781.5L646.5 784L647.3 786.2L648 788L648.8 789.4L650.5 791.7L652.2 793.6L653.9 794.9L655.6 795.7L657.8 796.2L660.1 796.6L662.3 796.9L664.6 797.1L666.8 797.2" stroke="#70308C" stroke-dasharray="14.9 3.6 7.5 3.6"/>
</g>
<rect x="82.6" y="927.1" width="387.6" height="315.4" fill="none" stroke="#262626" stroke-width="1.3"/>
<path d="M276.4 1242.5v-4.2M276.4 927.1v4.2" stroke="#262626" stroke-width="1.3"/>
<path d="M82.6 1137.4h4.2M470.2 1137.4h-4.2" stroke="#262626" stroke-width="1.3"/>
<path d="M82.6 1032.2h4.2M470.2 1032.2h-4.2" stroke="#262626" stroke-width="1.3"/>
<g transform="translate(0 1285.1) scale(1 1.0) translate(0 -1285.1)"><text x="74.1" y="1285.1" font-size="30.4" fill="#262626" stroke="#262626" stroke-width="0.45">0</text></g>
<g transform="translate(0 1285.1) scale(1 1.0) translate(0 -1285.1)"><text x="255.3" y="1285.1" font-size="30.4" fill="#262626" stroke="#262626" stroke-width="0.45">0.5</text></g>
<g transform="translate(0 1285.1) scale(1 1.0) translate(0 -1285.1)"><path transform="translate(461.7 1285.1) scale(0.03040 -0.03040)" d="M372 0H283V497H106V558C230 568 290 608 311 695H372Z" fill="#262626" stroke="#262626" stroke-width="14.8"/></g>
<g transform="translate(0 1255.1) scale(1 1.0) translate(0 -1255.1)"><text x="54.7" y="1255.1" font-size="30.4" fill="#262626" stroke="#262626" stroke-width="0.45">0</text></g>
<g transform="translate(0 1150) scale(1 1.0) translate(0 -1150)"><text x="54.7" y="1150" font-size="30.4" fill="#262626" stroke="#262626" stroke-width="0.45">5</text></g>
<g transform="translate(0 1044.8) scale(1 1.0) translate(0 -1044.8)"><path transform="translate(37.8 1044.8) scale(0.03040 -0.03040)" d="M372 0H283V497H106V558C230 568 290 608 311 695H372Z" fill="#262626" stroke="#262626" stroke-width="14.8"/><text x="54.7" y="1044.8" font-size="30.4" fill="#262626" stroke="#262626" stroke-width="0.45">0</text></g>
<g transform="translate(0 939.7) scale(1 1.0) translate(0 -939.7)"><path transform="translate(37.8 939.7) scale(0.03040 -0.03040)" d="M372 0H283V497H106V558C230 568 290 608 311 695H372Z" fill="#262626" stroke="#262626" stroke-width="14.8"/><text x="54.7" y="939.7" font-size="30.4" fill="#262626" stroke="#262626" stroke-width="0.45">5</text></g>
<g transform="translate(0 913.3) scale(1 1.0) translate(0 -913.3)"><text x="247.9" y="913.3" font-size="33" fill="#000" stroke="#000" stroke-width="0.2">n</text><path transform="translate(266.3 913.3) scale(0.03300 -0.03300)" d="M38 113H546V186H38ZM38 314H546V387H38Z" fill="#000" stroke="#000" stroke-width="6.1"/><text x="285.5" y="913.3" font-size="33" fill="#000" stroke="#000" stroke-width="0.2">5</text></g>
<g clip-path="url(#c20)" fill="none" stroke-width="4.8" stroke-linejoin="round">
<path d="M83.9 1242.4L86.2 1242.4L88.5 1242.3L90.8 1242.3L93.1 1242.2L95.4 1242.1L97.7 1241.9L100 1241.8L102.3 1241.6L104.6 1241.4L106.9 1241.1L109.2 1240.9L111.5 1240.5L113.9 1240L116.2 1239.2L118.6 1238.2L120.9 1237L122.5 1235.8L124 1234.1L125.6 1231.9L127.1 1229.6L128.7 1227.3L129.9 1225.6L131 1223.8L132.2 1221.9L133.3 1219.8L134.5 1217.5L135.3 1215.6L136.1 1213.5L136.9 1211.2L137.8 1208.7L138.6 1206.3L139.4 1203.9L140.2 1201.7L141 1199.5L141.7 1197.2L142.5 1194.9L143.3 1192.3L143.9 1190.2L144.5 1188L145 1185.7L145.6 1183.2L146.2 1180.6L146.7 1178.7L147.1 1176.8L147.6 1174.4L148.1 1170.9L148.2 1169.9L148.3 1168.4L148.4 1166.6L148.5 1164.5L148.6 1162.2L148.6 1159.6L148.7 1157L148.8 1154.1L148.9 1151.3L149 1148.4L149.1 1145.6L149.2 1143.7L149.2 1141.8L149.3 1139.9L149.3 1138L149.4 1136L149.5 1134L149.5 1131.9L149.6 1129.7L149.7 1127.4L149.7 1125L149.8 1122.4L149.8 1119.7L149.9 1116.7L150 1113.6L150 1110.3L150.1 1106.7L150.1 1105.1L150.2 1103.2L150.2 1101.1L150.2 1098.8L150.2 1096.3L150.2 1093.7L150.3 1091L150.3 1088.2L150.3 1085.4L150.3 1082.7L150.4 1079.9L150.4 1077.2L150.4 1074.6L150.4 1072.2L150.5 1069.9L150.5 1067.8L150.5 1064.9L150.6 1061.8L150.6 1058.7L150.6 1055.5L150.7 1052.4L150.7 1049.4L150.8 1046.5L150.8 1043.8L150.8 1041.3L150.9 1039.2L150.9 1037.4L150.9 1036.1L151 1035.3L151 1035L151.1 1035.2L151.3 1035.9L151.4 1036.9L151.6 1038.3L151.7 1040.1L151.9 1042.2L152 1044.6L152.1 1047.2L152.3 1050.2L152.4 1053.3L152.6 1056.7L152.7 1060.3L152.9 1064L153 1067.8L153 1069.1L153.1 1070.6L153.1 1072.4L153.2 1074.3L153.2 1076.5L153.2 1078.8L153.3 1081.3L153.3 1083.9L153.4 1086.6L153.4 1089.4L153.5 1092.3L153.5 1095.2L153.5 1098.1L153.6 1101.1L153.6 1104L153.7 1106.9L153.7 1109.7L153.8 1112.4L153.8 1115.1L153.8 1117.6L153.9 1120L153.9 1122.2L154 1124.3L154 1126.1L154.1 1129.2L154.2 1132.4L154.2 1135.5L154.3 1138.6L154.4 1141.5L154.4 1144.3L154.5 1146.9L154.6 1149.2L154.7 1151.3L154.8 1153L154.8 1154.4L154.9 1155.3L155.4 1159.3L155.9 1162.3L156.4 1164.5L156.8 1166.2L157.3 1167.6L157.8 1168.9L158.8 1171.2L159.8 1173L160.7 1174.7L161.7 1176.7L162.5 1178.7L163.3 1181L164 1183.5L164.8 1186L165.6 1188.4L166.4 1190.7L167.2 1193L167.9 1195.4L168.7 1197.7L169.5 1200L170.3 1202.4L171.1 1204.9L171.8 1207.3L172.6 1209.6L173.4 1211.7L174.4 1214L175.3 1216.2L176.3 1218.2L177.3 1220.1L178.2 1221.8L179.2 1223.4L180.8 1225.8L182.3 1228L183.9 1229.9L185.4 1231.7L187 1233.1L188.9 1234.6L190.9 1236L192.8 1237.2L194.8 1238.2L196.7 1238.9L198.9 1239.5L201.1 1240L203.3 1240.4L205.4 1240.8L207.6 1241.1L209.8 1241.4L212 1241.6L214.2 1241.8L216.4 1241.9L218.7 1242.1L220.9 1242.2L223.1 1242.3L225.3 1242.3L227.6 1242.4L229.8 1242.4" stroke="#3D71B8"/>
<path d="M268.5 1242.7L270.9 1242.7L273.4 1242.7L275.8 1242.7L278.2 1242.7L280.7 1242.7L283.1 1242.7L285.6 1242.7L288 1242.7L290.4 1242.7L292.9 1242.7L295.3 1242.7L297.7 1242.7L300.2 1242.7L302.6 1242.7L304.9 1242.7L307.3 1242.6L309.6 1242.4L311.9 1242.1L314.2 1241.9L316.6 1241.5L318.9 1241.2L321.2 1240.8L323.5 1240.4L325.9 1239.9L328.2 1239.5L330.3 1239L332.5 1238.5L334.6 1237.8L336.8 1237.1L338.9 1236.3L341 1235.4L343.2 1234.3L345.3 1233.1L347.4 1231.8L349.6 1230.4L351.7 1228.8L353.4 1227.5L355.1 1226.1L356.8 1224.4L358.5 1222.5L360.2 1220.3L361.1 1218.8L362 1216.8L362.9 1214.6L363.9 1212.2L364.8 1209.8L365.7 1207.5L366.6 1205.4L367.7 1203.2L368.7 1201.1L369.8 1199L370.9 1196.9L371.9 1194.8L373 1192.6L373.9 1190.6L374.8 1188.6L375.7 1186.5L376.7 1184.4L377.6 1182.2L378.5 1180L379.4 1177.6L380.1 1175.7L380.8 1173.6L381.5 1171.5L382.3 1169.3L383 1167.1L383.7 1164.8L384.3 1163L384.9 1161.4L385.5 1159.7L386.1 1157.9L386.7 1155.8L387.3 1153.2L387.9 1149.9L388.1 1148.7L388.2 1147.3L388.4 1145.6L388.6 1143.7L388.7 1141.6L388.9 1139.2L389.1 1136.7L389.3 1134L389.4 1131.1L389.6 1128L389.8 1124.8L389.9 1121.4L390.1 1117.9L390.2 1116.2L390.3 1114.2L390.3 1112L390.4 1109.6L390.5 1107.1L390.6 1104.4L390.6 1101.7L390.7 1099L390.8 1096.2L390.9 1093.5L390.9 1090.9L391 1088.3L391.1 1085.9L391.2 1083.5L391.3 1081.2L391.4 1079.2L391.4 1077.2L391.5 1075.3L391.6 1073.3L391.7 1071.3L391.8 1069.1L391.9 1066.8L391.9 1064.1L392 1061.2L392.1 1057.8L392.2 1054L392.2 1052.4L392.3 1050.3L392.3 1047.8L392.3 1044.9L392.3 1041.8L392.4 1038.5L392.4 1035.1L392.4 1031.8L392.4 1028.6L392.5 1025.7L392.5 1023.1L392.5 1020.9L392.5 1019.2L392.6 1018.1L392.6 1017.7L392.8 1017.9L393 1018.6L393.2 1019.6L393.3 1021L393.5 1022.8L393.7 1024.8L393.9 1027.2L394.1 1029.9L394.3 1032.8L394.5 1035.9L394.7 1039.2L394.8 1042.7L395 1046.4L395.2 1050.1L395.4 1054L395.5 1055.4L395.5 1057L395.6 1058.8L395.6 1060.8L395.7 1062.9L395.8 1065.1L395.8 1067.5L395.9 1070L395.9 1072.6L396 1075.2L396.1 1077.9L396.1 1080.6L396.2 1083.4L396.3 1086.1L396.3 1088.8L396.4 1091.5L396.4 1094.1L396.5 1096.6L396.6 1098.9L396.6 1101.4L396.7 1103.9L396.7 1106.5L396.8 1109.1L396.8 1111.8L396.9 1114.5L396.9 1117.2L397 1119.9L397.1 1122.5L397.1 1125.1L397.2 1127.5L397.2 1129.9L397.3 1132.1L397.3 1134.2L397.4 1136.1L397.4 1137.8L397.5 1139.3L397.6 1142.9L397.8 1146.4L397.9 1149.7L398.1 1152.9L398.2 1155.9L398.4 1158.8L398.5 1161.4L398.7 1163.9L398.8 1166.2L399 1168.3L399.1 1170.2L399.3 1171.8L399.4 1173.3L399.6 1174.5L399.7 1175.5L400.4 1179.1L401 1181.9L401.7 1184.2L402.4 1186.2L403 1187.8L403.7 1189.3L404.3 1190.9L405 1192.6L405.9 1194.9L406.8 1197.1L407.6 1199.2L408.5 1201.3L409.4 1203.3L410.3 1205.4L411.2 1207.5L412.1 1209.7L413 1211.9L413.8 1214L414.7 1216.1L415.6 1218.1L416.7 1220.5L417.7 1222.9L418.8 1225.3L419.9 1227.4L420.9 1229.4L422 1230.9L423.7 1232.9L425.4 1234.8L427.2 1236.3L428.9 1237.6L430.6 1238.4L432.7 1239.1L434.9 1239.8L437 1240.3L439.1 1240.7L441.2 1241.1L443.4 1241.4L445.5 1241.6L447.8 1241.8L450 1241.9L452.3 1242.1L454.6 1242.2L456.9 1242.3L459.1 1242.4L461.4 1242.5L463.7 1242.6L466 1242.7L468.2 1242.7L470.5 1242.7" stroke="#BF5129" stroke-dasharray="15 14.5"/>
<path d="M191.9 1242.4L194.3 1242.4L196.6 1242.4L199 1242.4L201.4 1242.4L203.7 1242.4L206.1 1242.4L208.5 1242.4L210.9 1242.4L213.2 1242.4L215.6 1242.4L218 1242.4L220.3 1242.4L222.7 1242.4L225.1 1242.4L227.4 1242.4L229.8 1242.4L232.1 1242.3L234.3 1242.2L236.6 1242L238.9 1241.7L241.1 1241.3L243.4 1240.9L245.3 1240.3L247.3 1239.3L249.2 1238L251.2 1236.6L253.1 1235.3L255.1 1234L257 1233.1L258.8 1232.5L260.6 1232.1L262.5 1231.6L264.3 1230.9L266.1 1229.9L267.8 1228.4L269.6 1226.6L271.4 1224.6L273.1 1222.5L274.9 1220.3L276.1 1218.8L277.4 1217.2L278.6 1215.5L279.8 1213.7L281 1211.7L282.3 1209.7L283.5 1207.5L284.4 1205.8L285.3 1204.2L286.2 1202.4L287.2 1200.4L288.1 1198.2L289 1195.6L289.9 1192.6L290.3 1191.1L290.7 1189.4L291.1 1187.4L291.4 1185.2L291.8 1182.7L292.2 1180L292.6 1176.8L293 1173.4L293.1 1171.9L293.3 1170.4L293.4 1168.6L293.6 1166.7L293.8 1164.5L293.9 1162.2L294.1 1159.6L294.2 1156.7L294.4 1153.4L294.5 1149.9L294.6 1148.4L294.6 1146.5L294.7 1144.3L294.7 1141.9L294.8 1139.2L294.8 1136.5L294.9 1133.6L294.9 1130.8L295 1127.9L295 1125.2L295.1 1122.5L295.1 1120.1L295.2 1117.9L295.3 1115L295.4 1112.2L295.4 1109.4L295.5 1106.7L295.6 1104L295.7 1101.4L295.7 1098.9L295.8 1096.5L295.9 1094.2L296 1092L296 1089.8L296.1 1087.8L296.2 1085.9L296.3 1082.9L296.4 1079.9L296.6 1076.9L296.7 1074L296.8 1071.3L296.9 1069L297.1 1067L297.2 1065.5L297.3 1064.6L298.1 1061L298.9 1058.4L299.7 1056.8L300.5 1056.3L300.8 1056.7L301 1057.7L301.3 1059.4L301.6 1061.7L301.8 1064.5L302.1 1067.7L302.3 1071.3L302.6 1075.3L302.7 1076.5L302.7 1078L302.8 1079.8L302.8 1081.9L302.9 1084.3L303 1086.8L303 1089.5L303.1 1092.3L303.1 1095.2L303.2 1098.1L303.3 1101.1L303.3 1103.9L303.4 1106.7L303.5 1109.4L303.5 1111.9L303.6 1114.1L303.6 1116.2L303.7 1117.9L303.8 1121.3L304 1124.6L304.1 1127.9L304.2 1131.1L304.4 1134.3L304.5 1137.3L304.6 1140.1L304.8 1142.8L304.9 1145.4L305 1147.7L305.1 1149.8L305.3 1151.7L305.4 1153.3L305.5 1154.6L305.7 1155.6L305.8 1156.3L306.9 1159.8L308 1162L309 1163.5L310.1 1164.8L312 1166.8L313.9 1168.5L315.7 1169.8L317.6 1171.2L319.2 1172.3L320.8 1173.2L322.4 1174.2L324 1175.5L325.3 1176.8L326.6 1178.4L327.8 1180.2L329.1 1182.1L330.4 1184L331.7 1186L333 1188.2L334.2 1190.5L335.5 1192.7L336.8 1194.7L338.2 1196.7L339.6 1198.5L341.1 1200.3L342.5 1202L343.9 1203.7L345.3 1205.4L346.7 1207.2L348.1 1209.1L349.6 1211L351 1212.8L352.4 1214.5L353.8 1216L355.6 1217.7L357.4 1219.2L359.1 1220.6L360.9 1221.9L362.7 1223.2L364.5 1224.5L366.3 1225.9L368.2 1227.2L370 1228.6L371.8 1229.9L373.6 1231.1L375.5 1232.2L377.3 1233.1L379.4 1234.1L381.6 1235L383.7 1235.8L385.8 1236.5L387.9 1237.2L390.1 1237.8L392.2 1238.4L394.6 1239L397.1 1239.6L399.5 1240.2L402 1240.7L404.4 1241.1L406.9 1241.4L409.3 1241.6L411.7 1241.7L414.2 1241.8L416.6 1241.9L419.1 1241.9L421.5 1242L424 1242.1L426.4 1242.2L428.9 1242.2L431.3 1242.3L433.8 1242.3L436.2 1242.4L438.7 1242.4L441.1 1242.5L443.6 1242.5L446 1242.5L448.5 1242.6L450.9 1242.6L453.4 1242.6L455.8 1242.6L458.3 1242.7L460.7 1242.7L463.2 1242.7L465.6 1242.7L468.1 1242.7L470.5 1242.7" stroke="#DAA62C" stroke-dasharray="3.9 3.5"/>
<path d="M83.9 1242.6L86.4 1242.6L88.8 1242.6L91.3 1242.6L93.7 1242.6L96.2 1242.5L98.6 1242.5L101.1 1242.5L103.6 1242.5L106 1242.4L108.5 1242.4L110.9 1242.3L113.4 1242.3L115.9 1242.2L118.3 1242.2L120.8 1242.1L123.2 1242L125.7 1242L128.1 1241.9L130.6 1241.8L132.8 1241.7L135.1 1241.5L137.3 1241.3L139.5 1241L141.7 1240.7L144 1240.3L146.2 1239.9L148.1 1239.4L150.1 1238.7L152 1237.9L153.9 1237L155.9 1236L157.8 1235L159.8 1233.9L161.7 1232.7L163.7 1231.4L165.6 1229.9L167.6 1228.2L168.9 1226.9L170.2 1225.3L171.4 1223.5L172.7 1221.6L174 1219.6L175.3 1217.5L176.3 1215.8L177.3 1214L178.2 1212.1L179.2 1210.1L180.2 1208L181.2 1205.9L182.2 1203.8L183.1 1201.8L184.1 1199.6L185.1 1197.4L186 1194.9L187 1192.3L187.7 1190.4L188.3 1188.4L188.9 1186.3L189.6 1183.9L190.2 1181.4L190.9 1178.6L191.3 1177.1L191.6 1175.6L192 1174.1L192.4 1172.4L192.7 1170.4L193.1 1168L193.4 1164.9L193.8 1161.1L193.9 1160.1L193.9 1158.8L194 1157.2L194.1 1155.2L194.1 1153L194.2 1150.6L194.3 1148.1L194.3 1145.4L194.4 1142.6L194.5 1139.8L194.5 1136.9L194.6 1134.1L194.7 1131.3L194.7 1128.6L194.8 1126.1L194.9 1123.8L194.9 1121.5L195 1119.1L195.1 1116.8L195.1 1114.4L195.2 1112L195.2 1109.6L195.3 1107.2L195.4 1104.7L195.4 1102.3L195.5 1099.8L195.6 1097.3L195.6 1094.8L195.7 1092.3L195.7 1089.8L195.8 1087.2L195.9 1084.8L195.9 1082.4L196 1079.9L196 1077.3L196.1 1074.7L196.1 1072L196.2 1069.4L196.2 1066.7L196.3 1064.1L196.4 1061.6L196.4 1059.1L196.5 1056.7L196.5 1054.4L196.6 1052.2L196.6 1050.2L196.7 1048.3L196.8 1045.1L196.9 1041.8L197 1038.4L197.1 1035.1L197.2 1031.8L197.3 1028.6L197.4 1025.5L197.5 1022.6L197.6 1019.9L197.7 1017.4L197.8 1015.2L197.9 1013.3L198 1011.7L198.1 1010.6L198.2 1009.8L198.3 1009.6L198.4 1009.8L198.6 1010.4L198.7 1011.3L198.9 1012.6L199 1014.2L199.2 1016.2L199.3 1018.4L199.4 1020.9L199.6 1023.6L199.7 1026.6L199.9 1029.8L200 1033.1L200.2 1036.7L200.3 1040.4L200.5 1044.3L200.6 1048.3L200.6 1049.6L200.7 1051.2L200.7 1053.1L200.8 1055.1L200.8 1057.4L200.8 1059.9L200.9 1062.5L200.9 1065.3L201 1068.1L201 1071L201.1 1074L201.1 1077L201.1 1080.1L201.2 1083.1L201.2 1086L201.3 1088.9L201.3 1091.7L201.3 1094.4L201.4 1097L201.4 1099.3L201.5 1101.5L201.5 1103.5L201.6 1105.2L201.6 1106.7L201.7 1110.4L201.8 1114L202 1117.5L202.1 1120.9L202.2 1124.1L202.3 1127.1L202.4 1129.9L202.6 1132.6L202.7 1135L202.8 1137.3L202.9 1139.3L203 1141.1L203.1 1142.6L203.3 1143.9L203.4 1144.9L203.5 1145.6L204.3 1149.1L205.1 1151.9L205.9 1154L206.8 1155.5L207.6 1156.5L208.4 1157.2L210.3 1158L212.3 1158.4L214.2 1159.2L215.2 1160.2L216.2 1161.9L217.1 1164L218.1 1166.4L219.1 1168.8L220.1 1170.9L221.1 1172.8L222 1174.7L223 1176.6L224 1178.5L224.9 1180.5L225.9 1182.5L226.9 1184.7L227.8 1187L228.8 1189.3L229.8 1191.7L230.7 1193.9L231.7 1196.1L232.7 1198.2L233.7 1200.2L234.6 1202.2L235.6 1204.1L236.6 1206L237.6 1207.8L238.7 1209.9L239.8 1211.9L240.9 1214L242.1 1216L243.2 1217.9L244.3 1219.7L245.4 1221.4L246.9 1223.6L248.5 1225.7L250 1227.7L251.6 1229.5L253.1 1231.1L255 1232.9L257 1234.5L258.9 1235.9L260.9 1237L263.1 1238.1L265.3 1239L267.6 1239.8L269.8 1240.5L272 1240.9L274.2 1241.2L276.5 1241.4L278.8 1241.6L281 1241.8L283.2 1241.9L285.5 1242.1L287.8 1242.1L290 1242.2L292.4 1242.2L294.8 1242.3L297.2 1242.3L299.6 1242.3L302 1242.4L304.4 1242.4L306.8 1242.4L309.2 1242.4L311.6 1242.5L314 1242.5L316.4 1242.5L318.9 1242.5L321.3 1242.5L323.7 1242.5L326.1 1242.6L328.5 1242.6L330.9 1242.6L333.3 1242.6L335.7 1242.6L338.1 1242.6L340.5 1242.6L342.9 1242.6L345.3 1242.6" stroke="#70308C" stroke-dasharray="14.9 3.6 7.5 3.6"/>
</g>
<text transform="translate(23.0 1087.1) rotate(-90) scale(1 1.0)" font-size="32.9" fill="#262626" stroke="#262626" stroke-width="0.45" text-anchor="middle">Distribution</text>
<text transform="translate(272.4 1330.1) scale(1 1.0)" font-size="32.7" fill="#262626" stroke="#262626" stroke-width="0.45" text-anchor="middle">Normalized descriptor</text>
<rect x="595.1" y="927.1" width="387.6" height="315.4" fill="none" stroke="#262626" stroke-width="1.3"/>
<path d="M788.9 1242.5v-4.2M788.9 927.1v4.2" stroke="#262626" stroke-width="1.3"/>
<path d="M595.1 1084.8h4.2M982.7 1084.8h-4.2" stroke="#262626" stroke-width="1.3"/>
<g transform="translate(0 1285.1) scale(1 1.0) translate(0 -1285.1)"><text x="586.6" y="1285.1" font-size="30.4" fill="#262626" stroke="#262626" stroke-width="0.45">0</text></g>
<g transform="translate(0 1285.1) scale(1 1.0) translate(0 -1285.1)"><text x="767.8" y="1285.1" font-size="30.4" fill="#262626" stroke="#262626" stroke-width="0.45">0.5</text></g>
<g transform="translate(0 1285.1) scale(1 1.0) translate(0 -1285.1)"><path transform="translate(974.2 1285.1) scale(0.03040 -0.03040)" d="M372 0H283V497H106V558C230 568 290 608 311 695H372Z" fill="#262626" stroke="#262626" stroke-width="14.8"/></g>
<g transform="translate(0 1255.1) scale(1 1.0) translate(0 -1255.1)"><text x="567.2" y="1255.1" font-size="30.4" fill="#262626" stroke="#262626" stroke-width="0.45">0</text></g>
<g transform="translate(0 1097.4) scale(1 1.0) translate(0 -1097.4)"><text x="567.2" y="1097.4" font-size="30.4" fill="#262626" stroke="#262626" stroke-width="0.45">5</text></g>
<g transform="translate(0 939.7) scale(1 1.0) translate(0 -939.7)"><path transform="translate(550.3 939.7) scale(0.03040 -0.03040)" d="M372 0H283V497H106V558C230 568 290 608 311 695H372Z" fill="#262626" stroke="#262626" stroke-width="14.8"/><text x="567.2" y="939.7" font-size="30.4" fill="#262626" stroke="#262626" stroke-width="0.45">0</text></g>
<g transform="translate(0 913.3) scale(1 1.0) translate(0 -913.3)"><text x="760.4" y="913.3" font-size="33" fill="#000" stroke="#000" stroke-width="0.2">n</text><path transform="translate(778.8 913.3) scale(0.03300 -0.03300)" d="M38 113H546V186H38ZM38 314H546V387H38Z" fill="#000" stroke="#000" stroke-width="6.1"/><text x="798" y="913.3" font-size="33" fill="#000" stroke="#000" stroke-width="0.2">6</text></g>
<g clip-path="url(#c21)" fill="none" stroke-width="4.8" stroke-linejoin="round">
<path d="M597.3 1242.7L599.6 1242.7L601.9 1242.7L604.3 1242.6L606.6 1242.6L608.9 1242.5L611.2 1242.5L613.5 1242.4L615.9 1242.3L618.2 1242.2L620.5 1242.1L622.8 1242L625.2 1241.9L627.5 1241.7L629.8 1241.6L632.1 1241.4L634.4 1241.2L636.7 1240.9L639.1 1240.6L641.4 1240.2L643.7 1239.7L646 1239.2L647.9 1238.6L649.7 1237.8L651.6 1236.9L653.4 1235.8L655.3 1234.6L657.2 1233.3L659 1231.9L660.9 1230.3L662.7 1228.5L664.6 1226.5L665.8 1225.2L666.9 1223.7L668 1222.1L669.2 1220.2L670.4 1218.2L671.5 1216L672.3 1214.2L673.1 1212.2L673.9 1209.9L674.6 1207.4L675.4 1204.8L676.2 1202.1L676.8 1199.9L677.4 1197.5L678 1195L678.5 1192.5L679.1 1190.2L679.7 1188.2L680.6 1185.6L681.5 1183.4L682.5 1181.3L683.4 1179.1L684.3 1176.6L685 1174.6L685.6 1172.3L686.3 1170L686.9 1167.5L687.6 1165.1L688.2 1162.7L688.9 1160.4L689.6 1158.1L690.4 1156.1L691.1 1154.2L691.8 1152.3L692.5 1150.2L693.2 1147.9L694 1145.1L694.7 1141.8L695 1140.4L695.2 1138.7L695.5 1136.9L695.8 1134.8L696 1132.5L696.3 1129.9L696.6 1127.2L696.8 1124.2L697.1 1120.9L697.2 1119.5L697.3 1118L697.4 1116.4L697.5 1114.6L697.6 1112.8L697.7 1110.8L697.8 1108.7L697.9 1106.6L698 1104.3L698.1 1102L698.2 1099.5L698.4 1097L698.5 1094.3L698.6 1091.7L698.7 1088.9L698.8 1086L698.9 1083.1L699 1080.1L699.1 1077.1L699.2 1074L699.3 1070.8L699.4 1067.6L699.5 1065.7L699.5 1063.7L699.6 1061.6L699.6 1059.3L699.7 1057L699.7 1054.5L699.8 1052L699.9 1049.5L699.9 1046.8L700 1044.2L700 1041.5L700.1 1038.8L700.2 1036.2L700.2 1033.6L700.3 1031L700.3 1028.4L700.4 1025.9L700.4 1023.5L700.5 1021.2L700.6 1018.5L700.6 1015.6L700.7 1012.6L700.8 1009.5L700.8 1006.3L700.9 1003.1L701 999.9L701 996.6L701.1 993.3L701.2 990.1L701.2 986.9L701.3 983.8L701.4 980.8L701.5 977.9L701.5 975.2L701.6 972.6L701.7 970.2L701.7 968L701.8 966L701.9 964.2L701.9 962.8L702 961.6L702.1 960.7L702.1 960.2L702.2 960L702.3 960.2L702.4 960.9L702.5 961.9L702.6 963.3L702.7 965.1L702.7 967.2L702.8 969.5L702.9 972L703 974.8L703.1 977.7L703.2 980.8L703.3 984L703.4 987.3L703.5 990.6L703.5 993.9L703.6 997.2L703.7 1000.5L703.8 1003.6L703.9 1006.7L704 1009.6L704.1 1011.8L704.1 1014L704.2 1016.4L704.3 1018.8L704.3 1021.3L704.4 1023.9L704.5 1026.5L704.5 1029.1L704.6 1031.8L704.7 1034.5L704.7 1037.2L704.8 1040L704.9 1042.7L705 1045.5L705 1048.2L705.1 1050.9L705.2 1053.6L705.2 1056.2L705.3 1058.9L705.4 1061.4L705.4 1063.9L705.5 1066.4L705.6 1068.7L705.6 1071L705.7 1073.2L705.8 1075.3L705.8 1077.3L705.9 1079.2L706 1082.4L706.1 1085.5L706.2 1088.7L706.4 1091.8L706.5 1094.9L706.6 1098L706.7 1101.1L706.8 1104.1L707 1107L707.1 1109.9L707.2 1112.7L707.3 1115.4L707.4 1118L707.5 1120.5L707.6 1122.9L707.8 1125.1L707.9 1127.2L708 1129.2L708.1 1131L708.2 1132.6L708.4 1134L708.5 1135.3L708.6 1136.3L708.7 1137.2L709.4 1140.9L710 1143.8L710.7 1146L711.3 1147.9L712 1149.6L712.6 1151.3L713.3 1153.4L714 1155.7L714.6 1158L715.3 1160.3L716 1162.6L716.7 1164.9L717.3 1167.3L718 1169.6L718.7 1172L719.3 1174.4L720 1176.8L720.6 1179.3L721.3 1181.6L721.9 1183.9L722.6 1185.9L723.5 1188.4L724.4 1190.6L725.4 1192.7L726.3 1194.9L727.2 1197.5L727.8 1199.6L728.4 1202.1L729 1204.8L729.5 1207.4L730.1 1209.7L730.7 1211.4L731.9 1213.8L733 1215.7L734.2 1217.4L735.3 1219L736.5 1220.7L737.7 1222.7L738.8 1224.9L740 1227.1L741.2 1229.2L742.3 1231L743.5 1232.3L745.4 1234L747.4 1235.4L749.3 1236.7L751.2 1237.8L753.2 1238.6L755.1 1239.2L757.4 1239.7L759.7 1240.2L762 1240.6L764.4 1240.9L766.7 1241.2L769 1241.4L771.3 1241.6L773.6 1241.8L775.9 1241.9L778.1 1242.1L780.4 1242.2L782.7 1242.3L785 1242.3" stroke="#3D71B8"/>
<path d="M730.7 1242.7L733.1 1242.6L735.6 1242.4L738 1242.3L740.5 1242.2L742.9 1242L745.4 1241.9L747.8 1241.8L750.2 1241.8L752.7 1241.7L755.1 1241.6L757.6 1241.6L760 1241.6L762.3 1241.6L764.6 1241.6L767 1241.6L769.3 1241.6L771.6 1241.6L773.9 1241.6L776.2 1241.6L778.6 1241.6L780.9 1241.6L783.2 1241.6L785.1 1241.4L787.1 1240.8L789 1240L790.9 1239L792.9 1238L794.8 1236.9L796.7 1235.8L798.5 1234.6L800.4 1233.2L802.2 1231.7L804.1 1230L805.6 1228.4L807.2 1226.7L808.8 1224.7L810.3 1222.7L811.9 1220.5L813.4 1218.4L814.7 1216.6L816 1214.8L817.3 1212.9L818.7 1211L820 1208.9L821.3 1206.7L822.6 1204.4L823.5 1202.7L824.4 1200.8L825.2 1198.8L826.1 1196.7L827 1194.6L827.9 1192.4L828.7 1190.3L829.6 1188.2L830.5 1186.2L831.3 1184.1L832.2 1182L833 1180L833.9 1177.9L834.8 1175.9L835.6 1173.9L836.5 1172L837.5 1169.9L838.5 1167.8L839.5 1165.8L840.5 1163.9L841.5 1161.9L842.5 1160L843.5 1158L844.5 1156.1L845.5 1154.2L846.5 1152.4L847.5 1150.5L848.5 1148.5L849.5 1146.4L850.5 1144.1L851.3 1142.4L852 1140.7L852.8 1138.9L853.6 1136.7L854.3 1133.9L855.1 1130.2L855.3 1129.1L855.4 1127.7L855.6 1126L855.7 1123.9L855.9 1121.6L856 1119.2L856.2 1116.5L856.4 1113.8L856.5 1111L856.7 1108.1L856.8 1105.2L857 1102.4L857.1 1100.3L857.2 1098.2L857.3 1096L857.5 1093.7L857.6 1091.4L857.7 1088.9L857.8 1086.5L857.9 1083.9L858 1081.3L858.1 1078.7L858.3 1076L858.4 1073.2L858.5 1070.4L858.6 1067.6L858.7 1065.4L858.8 1063.2L858.9 1060.8L858.9 1058.3L859 1055.8L859.1 1053.2L859.2 1050.6L859.3 1047.9L859.4 1045.3L859.4 1042.6L859.5 1040L859.6 1037.4L859.7 1034.8L859.8 1032.3L859.9 1029.9L859.9 1027.5L860 1025.3L860.1 1023.2L860.2 1021.2L860.3 1018.2L860.5 1015.2L860.6 1012.2L860.7 1009.3L860.9 1006.5L861 1003.8L861.2 1001.2L861.3 998.7L861.4 996.3L861.6 994L861.7 991.9L861.8 989.9L862 988.1L862.1 986.4L862.4 983L862.7 979.8L862.9 977.4L863.2 976.5L863.4 976.8L863.5 977.5L863.7 978.7L863.9 980.3L864 982.3L864.2 984.5L864.4 987.1L864.5 989.9L864.7 992.9L864.8 996.1L865 999.4L865.2 1002.8L865.3 1006.2L865.5 1009.6L865.6 1011.1L865.6 1012.8L865.7 1014.7L865.8 1016.6L865.9 1018.7L865.9 1020.9L866 1023.2L866.1 1025.6L866.1 1028.1L866.2 1030.6L866.3 1033.2L866.4 1035.8L866.4 1038.5L866.5 1041.2L866.6 1044L866.6 1046.7L866.7 1049.4L866.8 1052.1L866.8 1054.8L866.9 1057.5L867 1060.1L867.1 1062.7L867.1 1065.2L867.2 1067.6L867.3 1070.1L867.3 1072.8L867.4 1075.5L867.5 1078.3L867.6 1081.1L867.6 1084L867.7 1086.8L867.8 1089.7L867.9 1092.5L867.9 1095.2L868 1097.9L868.1 1100.5L868.2 1102.9L868.2 1105.2L868.3 1107.4L868.4 1109.3L868.5 1111.1L868.5 1112.7L868.6 1114L868.8 1117.6L869.1 1120.8L869.3 1123.7L869.5 1126.4L869.8 1128.8L870 1130.9L870.2 1132.8L870.4 1134.5L870.7 1135.9L870.9 1137.2L871.6 1140.6L872.4 1143.3L873.1 1145.6L873.8 1147.6L874.5 1149.4L875.3 1151.3L876 1153.4L876.8 1155.8L877.5 1158.2L878.3 1160.6L879.1 1162.9L879.8 1165.2L880.6 1167.3L881.4 1169.5L882.3 1171.5L883.1 1173.5L883.9 1175.4L884.7 1177.3L885.6 1179.2L886.4 1181.2L887.2 1183.2L888.1 1185.3L888.9 1187.3L889.7 1189.4L890.5 1191.4L891.4 1193.3L892.2 1195.2L893.2 1197.4L894.2 1199.4L895.2 1201.5L896.2 1203.5L897.2 1205.4L898.2 1207.3L899.2 1209.1L900.4 1211.2L901.5 1213.3L902.7 1215.4L903.8 1217.3L905 1219.1L906.1 1220.7L907.6 1222.6L909.2 1224.3L910.8 1226L912.3 1227.4L913.9 1228.8L915.4 1230L917.3 1231.4L919.3 1232.8L921.2 1234.1L923.1 1235.2L925.1 1236.1L927 1236.9L929.3 1237.7L931.6 1238.4L934 1239L936.3 1239.6L938.6 1240.1L941 1240.5L943.3 1240.9L945.6 1241.1L948.1 1241.3L950.6 1241.5L953.1 1241.6L955.6 1241.8L958.1 1241.9L960.6 1242.1L963.1 1242.2L965.5 1242.3L968 1242.4L970.5 1242.5L973 1242.6L975.5 1242.6L978 1242.7L980.5 1242.7L983 1242.7" stroke="#BF5129" stroke-dasharray="15 14.5"/>
<path d="M597.3 1242.7L599.6 1242.7L601.9 1242.6L604.3 1242.6L606.6 1242.5L608.9 1242.3L611.2 1242.2L613.6 1242L615.9 1241.8L618.2 1241.6L620.1 1241.3L622.1 1240.8L624 1240L625.9 1239.1L627.9 1238.1L629.8 1236.9L631.2 1235.7L632.6 1234L634 1232.1L635.4 1229.9L636.8 1227.6L637.8 1226L638.8 1224.2L639.8 1222.3L640.7 1220.3L641.7 1218.2L642.7 1216L643.7 1213.7L644.5 1211.7L645.4 1209.6L646.2 1207.4L647 1205.1L647.8 1202.7L648.7 1200.2L649.5 1197.5L650.1 1195.5L650.7 1193.3L651.2 1191L651.8 1188.6L652.4 1186.1L653 1183.6L653.5 1181.3L654 1178.9L654.5 1176.4L655 1174L655.5 1171.5L656 1169.3L656.5 1167.3L657.3 1164.9L658 1163.1L658.8 1161.4L659.6 1159.6L660.3 1157L661.1 1153.4L661.3 1152.3L661.4 1150.7L661.6 1148.8L661.7 1146.5L661.9 1144L662.1 1141.4L662.2 1138.6L662.4 1135.8L662.5 1132.9L662.7 1130.2L662.8 1128.2L662.9 1126.3L663.1 1124.3L663.2 1122.2L663.3 1120.2L663.4 1118L663.5 1115.7L663.6 1113.4L663.8 1110.8L663.9 1108.2L664 1105.4L664.1 1102.4L664.2 1100.7L664.2 1098.8L664.3 1096.8L664.4 1094.6L664.4 1092.4L664.5 1090.1L664.5 1087.6L664.6 1085.1L664.7 1082.6L664.7 1080L664.8 1077.3L664.9 1074.7L664.9 1072L665 1069.3L665 1066.5L665.1 1063.9L665.2 1061.2L665.2 1058.6L665.3 1056L665.4 1053.6L665.4 1051.2L665.5 1048.7L665.5 1046.1L665.6 1043.6L665.6 1041L665.7 1038.4L665.8 1035.7L665.8 1033.1L665.9 1030.5L665.9 1028L666 1025.4L666.1 1022.9L666.1 1020.5L666.2 1018.1L666.2 1015.9L666.3 1013.7L666.3 1011.6L666.4 1009.6L666.5 1006.7L666.6 1003.7L666.6 1000.6L666.7 997.5L666.8 994.5L666.9 991.6L667 989L667.1 986.7L667.1 984.8L667.2 983.3L667.3 982.3L667.4 982L667.5 982.3L667.7 983L667.9 984.2L668 985.8L668.1 987.8L668.3 990.1L668.5 992.8L668.6 995.7L668.8 998.9L668.9 1002.3L669.1 1005.9L669.2 1009.6L669.2 1010.8L669.3 1012.2L669.3 1013.8L669.4 1015.7L669.4 1017.7L669.5 1019.8L669.5 1022.2L669.5 1024.6L669.6 1027.2L669.6 1029.9L669.7 1032.6L669.7 1035.5L669.8 1038.4L669.8 1041.3L669.8 1044.3L669.9 1047.3L669.9 1050.3L670 1053.3L670 1056.3L670.1 1059.2L670.1 1062L670.1 1064.8L670.2 1067.5L670.2 1070.1L670.3 1072.6L670.3 1075L670.4 1077.2L670.4 1079.2L670.5 1082.2L670.5 1085.3L670.6 1088.4L670.7 1091.5L670.7 1094.6L670.8 1097.7L670.9 1100.7L670.9 1103.6L671 1106.4L671 1109L671.1 1111.5L671.2 1113.7L671.2 1115.7L671.3 1117.5L671.4 1119L671.4 1120.1L671.5 1120.9L672 1125.1L672.5 1128.2L673 1130.6L673.5 1132.4L674 1133.9L674.5 1135.4L675 1137.2L675.7 1139.8L676.3 1142.1L677 1144.4L677.7 1146.5L678.4 1148.7L679 1151L679.7 1153.4L680.3 1155.6L680.9 1157.9L681.4 1160.2L682 1162.5L682.6 1164.9L683.1 1167.3L683.7 1169.7L684.3 1172L684.9 1174.3L685.5 1176.7L686 1179.1L686.6 1181.4L687.2 1183.7L687.8 1185.9L688.5 1188.3L689.1 1190.8L689.8 1193.1L690.4 1195.5L691.1 1197.7L691.7 1200L692.4 1202.1L693.2 1204.6L694 1207.2L694.8 1209.7L695.5 1212L696.3 1214.1L697.1 1216L698.2 1218.4L699.4 1220.6L700.5 1222.6L701.7 1224.4L702.9 1226.1L704 1227.6L705.5 1229.5L707.1 1231.4L708.6 1233L710.2 1234.6L711.8 1235.9L713.3 1236.9L715.2 1238L717.2 1239L719.1 1240L721 1240.7L723 1241.3L724.9 1241.6L727.2 1241.8L729.5 1242L731.9 1242.2L734.2 1242.3L736.5 1242.5L738.8 1242.6L741.2 1242.6L743.5 1242.7L745.8 1242.7" stroke="#DAA62C" stroke-dasharray="3.9 3.5"/>
<path d="M878.3 1242.7L880.6 1242.7L882.9 1242.6L885.3 1242.6L887.6 1242.5L889.9 1242.4L892.2 1242.2L894.6 1242L896.9 1241.8L899.2 1241.6L901.1 1241.2L902.9 1240.5L904.8 1239.5L906.6 1238.3L908.5 1236.9L909.7 1235.7L910.8 1234.1L912 1232.2L913.1 1230L914.3 1227.6L915.1 1225.9L915.8 1223.9L916.6 1221.7L917.4 1219.2L918.1 1216.6L918.9 1213.7L919.3 1211.9L919.8 1209.9L920.2 1207.7L920.6 1205.3L921.1 1202.9L921.5 1200.3L922 1197.8L922.4 1195.2L922.8 1193.1L923.1 1191.1L923.4 1189L923.8 1186.8L924.1 1184.6L924.5 1182.3L924.9 1179.9L925.2 1177.4L925.5 1174.8L925.9 1172L926.1 1170L926.4 1167.9L926.6 1165.7L926.8 1163.4L927 1161L927.3 1158.5L927.5 1156L927.7 1153.6L928 1151.2L928.2 1148.8L928.4 1146.6L928.7 1144.7L928.9 1142.8L929.1 1141.1L929.4 1139.2L929.6 1137.2L929.8 1134.9L930 1132.3L930.3 1129.2L930.5 1125.6L930.6 1124.5L930.6 1123.2L930.7 1121.8L930.8 1120.3L930.8 1118.6L930.9 1116.8L930.9 1114.8L931 1112.8L931.1 1110.5L931.1 1108.1L931.2 1105.6L931.3 1102.9L931.3 1100L931.4 1097L931.4 1093.8L931.5 1090.4L931.6 1086.8L931.6 1083.1L931.7 1079.2L931.7 1077.8L931.7 1076.1L931.8 1074.3L931.8 1072.2L931.8 1070L931.8 1067.7L931.8 1065.3L931.9 1062.7L931.9 1060.1L931.9 1057.4L931.9 1054.6L932 1051.8L932 1049L932 1046.2L932 1043.4L932 1040.7L932.1 1038L932.1 1035.3L932.1 1032.8L932.1 1030.3L932.1 1027.7L932.2 1024.9L932.2 1022L932.2 1019L932.2 1015.9L932.2 1012.7L932.3 1009.5L932.3 1006.3L932.3 1003.1L932.3 999.9L932.3 996.8L932.4 993.8L932.4 990.8L932.4 988.1L932.4 985.4L932.4 983L932.5 980.7L932.5 978.7L932.5 976.9L932.5 975.4L932.5 974.1L932.6 973.2L932.6 972.7L932.6 972.5L932.7 972.6L932.8 973L932.9 973.7L933 974.5L933.1 975.6L933.2 977L933.3 978.5L933.4 980.3L933.5 982.2L933.6 984.3L933.7 986.6L933.8 989.1L933.9 991.7L934 994.5L934.1 997.5L934.2 1000.5L934.3 1003.7L934.4 1007L934.5 1010.5L934.6 1014L934.7 1017.6L934.8 1021.3L934.9 1025.1L935 1028.9L935.1 1032.8L935.1 1034.2L935.2 1035.7L935.2 1037.5L935.2 1039.5L935.3 1041.6L935.3 1043.9L935.3 1046.4L935.4 1049L935.4 1051.7L935.4 1054.5L935.4 1057.5L935.5 1060.5L935.5 1063.6L935.5 1066.8L935.6 1070L935.6 1073.2L935.6 1076.4L935.7 1079.7L935.7 1083L935.7 1086.2L935.8 1089.4L935.8 1092.5L935.8 1095.6L935.9 1098.6L935.9 1101.6L935.9 1104.4L936 1107.1L936 1109.7L936 1112.1L936 1114.4L936.1 1116.5L936.1 1118.5L936.1 1120.2L936.2 1121.8L936.2 1123.1L936.2 1124.2L936.3 1125L936.3 1125.6L936.6 1130.1L937 1133.6L937.3 1136.4L937.7 1138.7L938 1140.5L938.4 1142L938.8 1143.5L939.1 1145L939.4 1146.7L939.8 1148.8L940.1 1151.1L940.5 1153.4L940.8 1155.7L941.2 1158L941.5 1160.4L941.9 1162.7L942.2 1165L942.6 1167.3L942.9 1169.7L943.3 1172L943.6 1174.3L944 1176.8L944.3 1179.3L944.7 1181.8L945 1184.3L945.3 1186.7L945.7 1189.1L946 1191.3L946.4 1193.4L946.7 1195.2L947.3 1198.1L947.9 1200.8L948.5 1203.3L949 1205.7L949.6 1207.9L950.2 1209.9L950.8 1211.9L951.4 1213.7L952.2 1216.1L953.1 1218.4L953.9 1220.6L954.7 1222.5L955.5 1224.4L956.4 1226.1L957.2 1227.6L958.6 1229.9L960 1232.1L961.3 1234L962.7 1235.7L964.1 1236.9L966 1238.2L967.8 1239.4L969.7 1240.4L971.5 1241.1L973.4 1241.6L975.7 1242L978 1242.3L980.4 1242.5L982.7 1242.6L985 1242.7" stroke="#70308C" stroke-dasharray="14.9 3.6 7.5 3.6"/>
</g>
<text transform="translate(784.9 1330.1) scale(1 1.0)" font-size="32.7" fill="#262626" stroke="#262626" stroke-width="0.45" text-anchor="middle">Normalized descriptor</text>
<rect x="680.6" y="68.1" width="185.4" height="183.2" fill="#fff" stroke="#262626" stroke-width="1.3"/>
<path d="M687.5 94.1H743.5" stroke="#3D71B8" stroke-width="4.8"/>
<g transform="translate(0 103.7) scale(1 1.0) translate(0 -103.7)"><text x="748.6" y="103.7" font-size="27" fill="#000" stroke="#000" stroke-width="0.45">Te-NEP</text><path transform="translate(844.6 103.7) scale(0.02700 -0.02700)" d="M372 0H283V497H106V558C230 568 290 608 311 695H372Z" fill="#000" stroke="#000" stroke-width="16.7"/></g>
<path d="M687.5 137.9H743.5" stroke="#BF5129" stroke-width="4.8" stroke-dasharray="15 14.5"/>
<g transform="translate(0 148.3) scale(1 1.0) translate(0 -148.3)"><text x="748.6" y="148.3" font-size="27" fill="#000" stroke="#000" stroke-width="0.45">Pb-NEP</text><path transform="translate(846.1 148.3) scale(0.02700 -0.02700)" d="M372 0H283V497H106V558C230 568 290 608 311 695H372Z" fill="#000" stroke="#000" stroke-width="16.7"/></g>
<path d="M687.5 181.9H743.5" stroke="#DAA62C" stroke-width="4.8" stroke-dasharray="3.9 3.5"/>
<g transform="translate(0 192) scale(1 1.0) translate(0 -192)"><text x="748.6" y="192" font-size="27" fill="#000" stroke="#000" stroke-width="0.45">Te-NEP2</text></g>
<path d="M687.5 225.6H743.5" stroke="#70308C" stroke-width="4.8" stroke-dasharray="14.9 3.6 7.5 3.6"/>
<g transform="translate(0 235.6) scale(1 1.0) translate(0 -235.6)"><text x="748.6" y="235.6" font-size="27" fill="#000" stroke="#000" stroke-width="0.45">Pb-NEP2</text></g>
</svg></body></html>
